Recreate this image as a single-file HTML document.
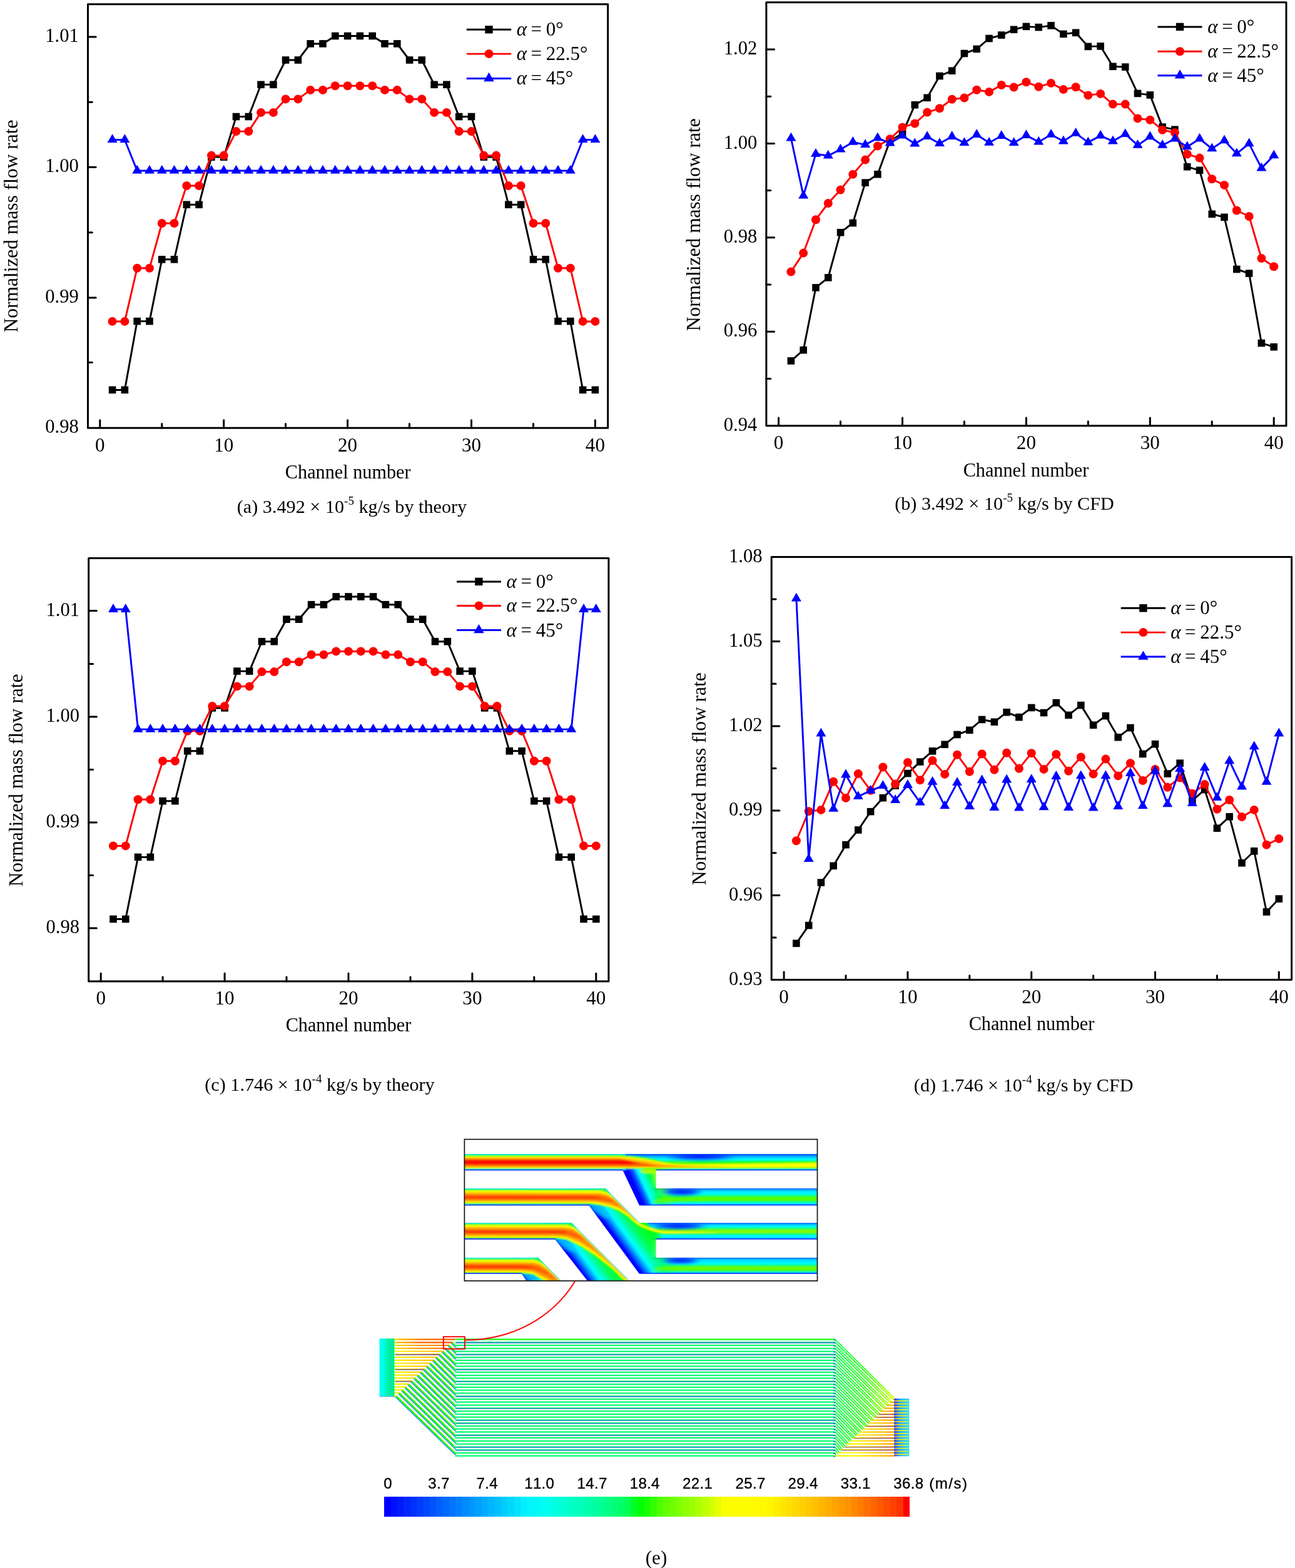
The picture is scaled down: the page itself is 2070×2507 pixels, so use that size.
<!DOCTYPE html>
<html lang="en">
<head>
<meta charset="utf-8">
<title>Normalized mass flow rate distributions</title>
<style>
html,body{margin:0;padding:0;background:#fff;}
body{width:2070px;height:2507px;overflow:hidden;font-family:"Liberation Serif", serif;}
svg{display:block;}
text{fill:#000;}
</style>
</head>
<body>
<svg width="2070" height="2507" viewBox="0 0 2070 2507">
<rect width="2070" height="2507" fill="#fff"/>
<g>
<g fill="#000" stroke="none">
<polyline points="179.6,623.4 199.4,623.4 219.2,513.6 239,513.6 258.8,414.8 278.5,414.8 298.3,327.2 318.1,327.2 337.9,251.1 357.7,251.1 377.5,186.5 397.3,186.5 417.1,135.3 436.9,135.3 456.6,96 476.4,96 496.2,69.9 516,69.9 535.8,57.5 555.6,57.5 575.4,57.5 595.2,57.5 615,69.9 634.8,69.9 654.5,96 674.3,96 694.1,135.3 713.9,135.3 733.7,186.5 753.5,186.5 773.3,251.1 793.1,251.1 812.9,327.2 832.7,327.2 852.5,414.8 872.2,414.8 892,513.6 911.8,513.6 931.6,623.4 951.4,623.4" fill="none" stroke="#000" stroke-width="2.95" stroke-linejoin="round"/>
<rect x="173.8" y="617.6" width="11.6" height="11.6"/><rect x="193.6" y="617.6" width="11.6" height="11.6"/><rect x="213.4" y="507.8" width="11.6" height="11.6"/><rect x="233.2" y="507.8" width="11.6" height="11.6"/><rect x="252.9" y="409" width="11.6" height="11.6"/><rect x="272.7" y="409" width="11.6" height="11.6"/><rect x="292.5" y="321.4" width="11.6" height="11.6"/><rect x="312.3" y="321.4" width="11.6" height="11.6"/><rect x="332.1" y="245.3" width="11.6" height="11.6"/><rect x="351.9" y="245.3" width="11.6" height="11.6"/><rect x="371.7" y="180.7" width="11.6" height="11.6"/><rect x="391.5" y="180.7" width="11.6" height="11.6"/><rect x="411.3" y="129.5" width="11.6" height="11.6"/><rect x="431.1" y="129.5" width="11.6" height="11.6"/><rect x="450.8" y="90.2" width="11.6" height="11.6"/><rect x="470.6" y="90.2" width="11.6" height="11.6"/><rect x="490.4" y="64.1" width="11.6" height="11.6"/><rect x="510.2" y="64.1" width="11.6" height="11.6"/><rect x="530" y="51.7" width="11.6" height="11.6"/><rect x="549.8" y="51.7" width="11.6" height="11.6"/><rect x="569.6" y="51.7" width="11.6" height="11.6"/><rect x="589.4" y="51.7" width="11.6" height="11.6"/><rect x="609.2" y="64.1" width="11.6" height="11.6"/><rect x="629" y="64.1" width="11.6" height="11.6"/><rect x="648.8" y="90.2" width="11.6" height="11.6"/><rect x="668.5" y="90.2" width="11.6" height="11.6"/><rect x="688.3" y="129.5" width="11.6" height="11.6"/><rect x="708.1" y="129.5" width="11.6" height="11.6"/><rect x="727.9" y="180.7" width="11.6" height="11.6"/><rect x="747.7" y="180.7" width="11.6" height="11.6"/><rect x="767.5" y="245.3" width="11.6" height="11.6"/><rect x="787.3" y="245.3" width="11.6" height="11.6"/><rect x="807.1" y="321.4" width="11.6" height="11.6"/><rect x="826.9" y="321.4" width="11.6" height="11.6"/><rect x="846.7" y="409" width="11.6" height="11.6"/><rect x="866.4" y="409" width="11.6" height="11.6"/><rect x="886.2" y="507.8" width="11.6" height="11.6"/><rect x="906" y="507.8" width="11.6" height="11.6"/><rect x="925.8" y="617.6" width="11.6" height="11.6"/><rect x="945.6" y="617.6" width="11.6" height="11.6"/>
</g>
<g fill="#ff0000" stroke="none">
<polyline points="179.6,513.9 199.4,513.9 219.2,428.7 239,428.7 258.8,357 278.5,357 298.3,297 318.1,297 337.9,248.6 357.7,248.6 377.5,210.1 397.3,210.1 417.1,179.9 436.9,179.9 456.6,158.4 476.4,158.4 496.2,143.9 516,143.9 535.8,137.3 555.6,137.3 575.4,137.3 595.2,137.3 615,143.9 634.8,143.9 654.5,158.4 674.3,158.4 694.1,179.9 713.9,179.9 733.7,210.1 753.5,210.1 773.3,248.6 793.1,248.6 812.9,297 832.7,297 852.5,357 872.2,357 892,428.7 911.8,428.7 931.6,513.9 951.4,513.9" fill="none" stroke="#ff0000" stroke-width="2.95" stroke-linejoin="round"/>
<circle cx="179.6" cy="513.9" r="7"/><circle cx="199.4" cy="513.9" r="7"/><circle cx="219.2" cy="428.7" r="7"/><circle cx="239" cy="428.7" r="7"/><circle cx="258.8" cy="357" r="7"/><circle cx="278.5" cy="357" r="7"/><circle cx="298.3" cy="297" r="7"/><circle cx="318.1" cy="297" r="7"/><circle cx="337.9" cy="248.6" r="7"/><circle cx="357.7" cy="248.6" r="7"/><circle cx="377.5" cy="210.1" r="7"/><circle cx="397.3" cy="210.1" r="7"/><circle cx="417.1" cy="179.9" r="7"/><circle cx="436.9" cy="179.9" r="7"/><circle cx="456.6" cy="158.4" r="7"/><circle cx="476.4" cy="158.4" r="7"/><circle cx="496.2" cy="143.9" r="7"/><circle cx="516" cy="143.9" r="7"/><circle cx="535.8" cy="137.3" r="7"/><circle cx="555.6" cy="137.3" r="7"/><circle cx="575.4" cy="137.3" r="7"/><circle cx="595.2" cy="137.3" r="7"/><circle cx="615" cy="143.9" r="7"/><circle cx="634.8" cy="143.9" r="7"/><circle cx="654.5" cy="158.4" r="7"/><circle cx="674.3" cy="158.4" r="7"/><circle cx="694.1" cy="179.9" r="7"/><circle cx="713.9" cy="179.9" r="7"/><circle cx="733.7" cy="210.1" r="7"/><circle cx="753.5" cy="210.1" r="7"/><circle cx="773.3" cy="248.6" r="7"/><circle cx="793.1" cy="248.6" r="7"/><circle cx="812.9" cy="297" r="7"/><circle cx="832.7" cy="297" r="7"/><circle cx="852.5" cy="357" r="7"/><circle cx="872.2" cy="357" r="7"/><circle cx="892" cy="428.7" r="7"/><circle cx="911.8" cy="428.7" r="7"/><circle cx="931.6" cy="513.9" r="7"/><circle cx="951.4" cy="513.9" r="7"/>
</g>
<g fill="#0000ff" stroke="none">
<polyline points="179.6,223.5 199.4,223.5 219.2,272.9 239,272.9 258.8,272.9 278.5,272.9 298.3,272.9 318.1,272.9 337.9,272.9 357.7,272.9 377.5,272.9 397.3,272.9 417.1,272.9 436.9,272.9 456.6,272.9 476.4,272.9 496.2,272.9 516,272.9 535.8,272.9 555.6,272.9 575.4,272.9 595.2,272.9 615,272.9 634.8,272.9 654.5,272.9 674.3,272.9 694.1,272.9 713.9,272.9 733.7,272.9 753.5,272.9 773.3,272.9 793.1,272.9 812.9,272.9 832.7,272.9 852.5,272.9 872.2,272.9 892,272.9 911.8,272.9 931.6,223.5 951.4,223.5" fill="none" stroke="#0000ff" stroke-width="2.95" stroke-linejoin="round"/>
<path d="M179.6 214.3L187.6 228.1L171.6 228.1Z"/><path d="M199.4 214.3L207.4 228.1L191.4 228.1Z"/><path d="M219.2 263.7L227.2 277.5L211.2 277.5Z"/><path d="M239 263.7L247 277.5L231 277.5Z"/><path d="M258.8 263.7L266.8 277.5L250.8 277.5Z"/><path d="M278.5 263.7L286.5 277.5L270.5 277.5Z"/><path d="M298.3 263.7L306.3 277.5L290.3 277.5Z"/><path d="M318.1 263.7L326.1 277.5L310.1 277.5Z"/><path d="M337.9 263.7L345.9 277.5L329.9 277.5Z"/><path d="M357.7 263.7L365.7 277.5L349.7 277.5Z"/><path d="M377.5 263.7L385.5 277.5L369.5 277.5Z"/><path d="M397.3 263.7L405.3 277.5L389.3 277.5Z"/><path d="M417.1 263.7L425.1 277.5L409.1 277.5Z"/><path d="M436.9 263.7L444.9 277.5L428.9 277.5Z"/><path d="M456.6 263.7L464.6 277.5L448.6 277.5Z"/><path d="M476.4 263.7L484.4 277.5L468.4 277.5Z"/><path d="M496.2 263.7L504.2 277.5L488.2 277.5Z"/><path d="M516 263.7L524 277.5L508 277.5Z"/><path d="M535.8 263.7L543.8 277.5L527.8 277.5Z"/><path d="M555.6 263.7L563.6 277.5L547.6 277.5Z"/><path d="M575.4 263.7L583.4 277.5L567.4 277.5Z"/><path d="M595.2 263.7L603.2 277.5L587.2 277.5Z"/><path d="M615 263.7L623 277.5L607 277.5Z"/><path d="M634.8 263.7L642.8 277.5L626.8 277.5Z"/><path d="M654.5 263.7L662.5 277.5L646.5 277.5Z"/><path d="M674.3 263.7L682.3 277.5L666.3 277.5Z"/><path d="M694.1 263.7L702.1 277.5L686.1 277.5Z"/><path d="M713.9 263.7L721.9 277.5L705.9 277.5Z"/><path d="M733.7 263.7L741.7 277.5L725.7 277.5Z"/><path d="M753.5 263.7L761.5 277.5L745.5 277.5Z"/><path d="M773.3 263.7L781.3 277.5L765.3 277.5Z"/><path d="M793.1 263.7L801.1 277.5L785.1 277.5Z"/><path d="M812.9 263.7L820.9 277.5L804.9 277.5Z"/><path d="M832.7 263.7L840.7 277.5L824.7 277.5Z"/><path d="M852.5 263.7L860.5 277.5L844.5 277.5Z"/><path d="M872.2 263.7L880.2 277.5L864.2 277.5Z"/><path d="M892 263.7L900 277.5L884 277.5Z"/><path d="M911.8 263.7L919.8 277.5L903.8 277.5Z"/><path d="M931.6 214.3L939.6 228.1L923.6 228.1Z"/><path d="M951.4 214.3L959.4 228.1L943.4 228.1Z"/>
</g>
<rect x="140.5" y="6.8" width="831.2" height="677.5" fill="none" stroke="#000" stroke-width="3.0" stroke-linejoin="round"/>
<path d="M159.8 684.3v-12.6M258.8 684.3v-6.9M357.7 684.3v-12.6M456.6 684.3v-6.9M555.6 684.3v-12.6M654.5 684.3v-6.9M753.5 684.3v-12.6M852.5 684.3v-6.9M951.4 684.3v-12.6M140.5 59h12.7M140.5 267.2h12.7M140.5 475.9h12.7M140.5 163.2h6.9M140.5 371.7h6.9M140.5 579.6h6.9" fill="none" stroke="#000" stroke-width="3.0" stroke-linecap="round"/>
<g font-family='"Liberation Serif", serif' font-size="32.6" fill="#000">
<text transform="translate(159.8 721.6) scale(0.955 1)" text-anchor="middle">0</text>
<text transform="translate(357.7 721.6) scale(0.955 1)" text-anchor="middle">10</text>
<text transform="translate(555.6 721.6) scale(0.955 1)" text-anchor="middle">20</text>
<text transform="translate(753.5 721.6) scale(0.955 1)" text-anchor="middle">30</text>
<text transform="translate(951.4 721.6) scale(0.955 1)" text-anchor="middle">40</text>
<text transform="translate(125.9 67.1) scale(0.94 1)" text-anchor="end">1.01</text>
<text transform="translate(125.9 275.3) scale(0.94 1)" text-anchor="end">1.00</text>
<text transform="translate(125.9 484) scale(0.94 1)" text-anchor="end">0.99</text>
<text transform="translate(125.9 692.4) scale(0.94 1)" text-anchor="end">0.98</text>
</g>
<text transform="translate(28 361.5) rotate(-90) scale(0.984 0.96)" font-family='"Liberation Serif", serif' font-size="32" text-anchor="middle">Normalized mass flow rate</text>
<text transform="translate(556.2 764.6) scale(0.945 1)" font-family='"Liberation Serif", serif' font-size="32" text-anchor="middle">Channel number</text>
<g fill="#000"><path d="M745.8 47.3H817.2" stroke="#000" stroke-width="2.95"/><rect x="775.3" y="41.1" width="12.4" height="12.4"/></g>
<text x="825.7" y="57.3" font-family='"Liberation Serif", serif' font-size="31" word-spacing="-1.1"><tspan font-style="italic">α</tspan> = 0°</text>
<g fill="#ff0000"><path d="M745.8 86.1H817.2" stroke="#ff0000" stroke-width="2.95"/><circle cx="781.5" cy="86.1" r="7"/></g>
<text x="825.7" y="96.1" font-family='"Liberation Serif", serif' font-size="31" word-spacing="-1.1"><tspan font-style="italic">α</tspan> = 22.5°</text>
<g fill="#0000ff"><path d="M745.8 125.4H817.2" stroke="#0000ff" stroke-width="2.95"/><path d="M781.5 115.8L789.8 130.2L773.2 130.2Z"/></g>
<text x="825.7" y="135.4" font-family='"Liberation Serif", serif' font-size="31" word-spacing="-1.1"><tspan font-style="italic">α</tspan> = 45°</text>
<text x="562.5" y="820.4" font-family='"Liberation Serif", serif' font-size="30.2" text-anchor="middle">(a) 3.492 × 10<tspan font-size="19" dy="-13.3">-5</tspan><tspan dy="13.3"> kg/s by theory</tspan></text>
</g>
<g>
<g fill="#000" stroke="none">
<polyline points="1264.4,577 1284.2,559.7 1304,459.9 1323.8,443.9 1343.5,371.7 1363.3,356.5 1383.1,292.1 1402.9,278.7 1422.7,224.7 1442.5,213.6 1462.3,167.7 1482.1,156.3 1501.9,121.5 1521.7,113.2 1541.4,85.5 1561.2,78.4 1581,61.5 1600.8,56.1 1620.6,47.3 1640.4,42.4 1660.2,43.6 1680,40.9 1699.8,54.4 1719.6,52.3 1739.3,74.4 1759.1,73.9 1778.9,106.3 1798.7,107.1 1818.5,149.4 1838.3,151.9 1858.1,203.1 1877.9,207.2 1897.7,266.7 1917.5,272.3 1937.2,342.3 1957,347.3 1976.8,430.5 1996.6,437.1 2016.4,548.6 2036.2,554.7" fill="none" stroke="#000" stroke-width="2.95" stroke-linejoin="round"/>
<rect x="1258.6" y="571.2" width="11.6" height="11.6"/><rect x="1278.4" y="553.9" width="11.6" height="11.6"/><rect x="1298.2" y="454.1" width="11.6" height="11.6"/><rect x="1318" y="438.1" width="11.6" height="11.6"/><rect x="1337.8" y="365.9" width="11.6" height="11.6"/><rect x="1357.5" y="350.7" width="11.6" height="11.6"/><rect x="1377.3" y="286.3" width="11.6" height="11.6"/><rect x="1397.1" y="272.9" width="11.6" height="11.6"/><rect x="1416.9" y="218.9" width="11.6" height="11.6"/><rect x="1436.7" y="207.8" width="11.6" height="11.6"/><rect x="1456.5" y="161.9" width="11.6" height="11.6"/><rect x="1476.3" y="150.5" width="11.6" height="11.6"/><rect x="1496.1" y="115.7" width="11.6" height="11.6"/><rect x="1515.9" y="107.4" width="11.6" height="11.6"/><rect x="1535.6" y="79.7" width="11.6" height="11.6"/><rect x="1555.4" y="72.6" width="11.6" height="11.6"/><rect x="1575.2" y="55.7" width="11.6" height="11.6"/><rect x="1595" y="50.3" width="11.6" height="11.6"/><rect x="1614.8" y="41.5" width="11.6" height="11.6"/><rect x="1634.6" y="36.6" width="11.6" height="11.6"/><rect x="1654.4" y="37.8" width="11.6" height="11.6"/><rect x="1674.2" y="35.1" width="11.6" height="11.6"/><rect x="1694" y="48.6" width="11.6" height="11.6"/><rect x="1713.8" y="46.5" width="11.6" height="11.6"/><rect x="1733.5" y="68.6" width="11.6" height="11.6"/><rect x="1753.3" y="68.1" width="11.6" height="11.6"/><rect x="1773.1" y="100.5" width="11.6" height="11.6"/><rect x="1792.9" y="101.3" width="11.6" height="11.6"/><rect x="1812.7" y="143.6" width="11.6" height="11.6"/><rect x="1832.5" y="146.1" width="11.6" height="11.6"/><rect x="1852.3" y="197.3" width="11.6" height="11.6"/><rect x="1872.1" y="201.4" width="11.6" height="11.6"/><rect x="1891.9" y="260.9" width="11.6" height="11.6"/><rect x="1911.7" y="266.5" width="11.6" height="11.6"/><rect x="1931.5" y="336.5" width="11.6" height="11.6"/><rect x="1951.2" y="341.5" width="11.6" height="11.6"/><rect x="1971" y="424.7" width="11.6" height="11.6"/><rect x="1990.8" y="431.3" width="11.6" height="11.6"/><rect x="2010.6" y="542.8" width="11.6" height="11.6"/><rect x="2030.4" y="548.9" width="11.6" height="11.6"/>
</g>
<g fill="#ff0000" stroke="none">
<polyline points="1264.4,434.5 1284.2,404.6 1304,351.2 1323.8,325 1343.5,303.5 1363.3,278.7 1383.1,255.6 1402.9,233.4 1422.7,222.2 1442.5,203.4 1462.3,197.5 1482.1,179.6 1501.9,173.3 1521.7,158.8 1541.4,156.5 1561.2,143.8 1581,146.9 1600.8,136 1620.6,139.5 1640.4,131.2 1660.2,138.8 1680,132.9 1699.8,143.1 1719.6,139.3 1739.3,152.4 1759.1,149.9 1778.9,166.6 1798.7,166.6 1818.5,189.4 1838.3,191.7 1858.1,207.7 1877.9,212 1897.7,246.5 1917.5,252.6 1937.2,286.3 1957,295.9 1976.8,336.5 1996.6,346 2016.4,413 2036.2,426.2" fill="none" stroke="#ff0000" stroke-width="2.95" stroke-linejoin="round"/>
<circle cx="1264.4" cy="434.5" r="7"/><circle cx="1284.2" cy="404.6" r="7"/><circle cx="1304" cy="351.2" r="7"/><circle cx="1323.8" cy="325" r="7"/><circle cx="1343.5" cy="303.5" r="7"/><circle cx="1363.3" cy="278.7" r="7"/><circle cx="1383.1" cy="255.6" r="7"/><circle cx="1402.9" cy="233.4" r="7"/><circle cx="1422.7" cy="222.2" r="7"/><circle cx="1442.5" cy="203.4" r="7"/><circle cx="1462.3" cy="197.5" r="7"/><circle cx="1482.1" cy="179.6" r="7"/><circle cx="1501.9" cy="173.3" r="7"/><circle cx="1521.7" cy="158.8" r="7"/><circle cx="1541.4" cy="156.5" r="7"/><circle cx="1561.2" cy="143.8" r="7"/><circle cx="1581" cy="146.9" r="7"/><circle cx="1600.8" cy="136" r="7"/><circle cx="1620.6" cy="139.5" r="7"/><circle cx="1640.4" cy="131.2" r="7"/><circle cx="1660.2" cy="138.8" r="7"/><circle cx="1680" cy="132.9" r="7"/><circle cx="1699.8" cy="143.1" r="7"/><circle cx="1719.6" cy="139.3" r="7"/><circle cx="1739.3" cy="152.4" r="7"/><circle cx="1759.1" cy="149.9" r="7"/><circle cx="1778.9" cy="166.6" r="7"/><circle cx="1798.7" cy="166.6" r="7"/><circle cx="1818.5" cy="189.4" r="7"/><circle cx="1838.3" cy="191.7" r="7"/><circle cx="1858.1" cy="207.7" r="7"/><circle cx="1877.9" cy="212" r="7"/><circle cx="1897.7" cy="246.5" r="7"/><circle cx="1917.5" cy="252.6" r="7"/><circle cx="1937.2" cy="286.3" r="7"/><circle cx="1957" cy="295.9" r="7"/><circle cx="1976.8" cy="336.5" r="7"/><circle cx="1996.6" cy="346" r="7"/><circle cx="2016.4" cy="413" r="7"/><circle cx="2036.2" cy="426.2" r="7"/>
</g>
<g fill="#0000ff" stroke="none">
<polyline points="1264.4,220.9 1284.2,312.9 1304,246.2 1323.8,249 1343.5,238.9 1363.3,227.2 1383.1,231.4 1402.9,220.7 1422.7,229 1442.5,217 1462.3,229.8 1482.1,218.4 1501.9,229.5 1521.7,218.3 1541.4,228.5 1561.2,215.3 1581,228.2 1600.8,217.3 1620.6,228.5 1640.4,216.4 1660.2,226.9 1680,215.2 1699.8,225.8 1719.6,213.1 1739.3,227.6 1759.1,216.9 1778.9,225.8 1798.7,214.4 1818.5,232.2 1838.3,218.7 1858.1,232.2 1877.9,222 1897.7,234.7 1917.5,222 1937.2,237.7 1957,224.6 1976.8,245.6 1996.6,229.6 2016.4,268.9 2036.2,248.6" fill="none" stroke="#0000ff" stroke-width="2.95" stroke-linejoin="round"/>
<path d="M1264.4 211.7L1272.4 225.5L1256.4 225.5Z"/><path d="M1284.2 303.7L1292.2 317.5L1276.2 317.5Z"/><path d="M1304 237L1312 250.8L1296 250.8Z"/><path d="M1323.8 239.8L1331.8 253.6L1315.8 253.6Z"/><path d="M1343.5 229.7L1351.5 243.5L1335.5 243.5Z"/><path d="M1363.3 218L1371.3 231.8L1355.3 231.8Z"/><path d="M1383.1 222.2L1391.1 236L1375.1 236Z"/><path d="M1402.9 211.5L1410.9 225.3L1394.9 225.3Z"/><path d="M1422.7 219.8L1430.7 233.6L1414.7 233.6Z"/><path d="M1442.5 207.8L1450.5 221.6L1434.5 221.6Z"/><path d="M1462.3 220.6L1470.3 234.4L1454.3 234.4Z"/><path d="M1482.1 209.2L1490.1 223L1474.1 223Z"/><path d="M1501.9 220.3L1509.9 234.1L1493.9 234.1Z"/><path d="M1521.7 209.1L1529.7 222.9L1513.7 222.9Z"/><path d="M1541.4 219.3L1549.4 233.1L1533.4 233.1Z"/><path d="M1561.2 206.1L1569.2 219.9L1553.2 219.9Z"/><path d="M1581 219L1589 232.8L1573 232.8Z"/><path d="M1600.8 208.1L1608.8 221.9L1592.8 221.9Z"/><path d="M1620.6 219.3L1628.6 233.1L1612.6 233.1Z"/><path d="M1640.4 207.2L1648.4 221L1632.4 221Z"/><path d="M1660.2 217.7L1668.2 231.5L1652.2 231.5Z"/><path d="M1680 206L1688 219.8L1672 219.8Z"/><path d="M1699.8 216.6L1707.8 230.4L1691.8 230.4Z"/><path d="M1719.6 203.9L1727.6 217.7L1711.6 217.7Z"/><path d="M1739.3 218.4L1747.3 232.2L1731.3 232.2Z"/><path d="M1759.1 207.7L1767.1 221.5L1751.1 221.5Z"/><path d="M1778.9 216.6L1786.9 230.4L1770.9 230.4Z"/><path d="M1798.7 205.2L1806.7 219L1790.7 219Z"/><path d="M1818.5 223L1826.5 236.8L1810.5 236.8Z"/><path d="M1838.3 209.5L1846.3 223.3L1830.3 223.3Z"/><path d="M1858.1 223L1866.1 236.8L1850.1 236.8Z"/><path d="M1877.9 212.8L1885.9 226.6L1869.9 226.6Z"/><path d="M1897.7 225.5L1905.7 239.3L1889.7 239.3Z"/><path d="M1917.5 212.8L1925.5 226.6L1909.5 226.6Z"/><path d="M1937.2 228.5L1945.2 242.3L1929.2 242.3Z"/><path d="M1957 215.4L1965 229.2L1949 229.2Z"/><path d="M1976.8 236.4L1984.8 250.2L1968.8 250.2Z"/><path d="M1996.6 220.4L2004.6 234.2L1988.6 234.2Z"/><path d="M2016.4 259.7L2024.4 273.5L2008.4 273.5Z"/><path d="M2036.2 239.4L2044.2 253.2L2028.2 253.2Z"/>
</g>
<rect x="1224.9" y="3.8" width="831.1" height="676.9" fill="none" stroke="#000" stroke-width="3.0" stroke-linejoin="round"/>
<path d="M1244.6 680.7v-12.6M1343.5 680.7v-6.9M1442.5 680.7v-12.6M1541.4 680.7v-6.9M1640.4 680.7v-12.6M1739.3 680.7v-6.9M1838.3 680.7v-12.6M1937.2 680.7v-6.9M2036.2 680.7v-12.6M1224.9 79h12.7M1224.9 229.4h12.7M1224.9 379.8h12.7M1224.9 530.3h12.7M1224.9 154.2h6.9M1224.9 304.6h6.9M1224.9 455h6.9M1224.9 605.5h6.9" fill="none" stroke="#000" stroke-width="3.0" stroke-linecap="round"/>
<g font-family='"Liberation Serif", serif' font-size="32.6" fill="#000">
<text transform="translate(1244.6 718) scale(0.955 1)" text-anchor="middle">0</text>
<text transform="translate(1442.5 718) scale(0.955 1)" text-anchor="middle">10</text>
<text transform="translate(1640.4 718) scale(0.955 1)" text-anchor="middle">20</text>
<text transform="translate(1838.3 718) scale(0.955 1)" text-anchor="middle">30</text>
<text transform="translate(2036.2 718) scale(0.955 1)" text-anchor="middle">40</text>
<text transform="translate(1210.3 87.1) scale(0.94 1)" text-anchor="end">1.02</text>
<text transform="translate(1210.3 237.5) scale(0.94 1)" text-anchor="end">1.00</text>
<text transform="translate(1210.3 387.9) scale(0.94 1)" text-anchor="end">0.98</text>
<text transform="translate(1210.3 538.4) scale(0.94 1)" text-anchor="end">0.96</text>
<text transform="translate(1210.3 688.8) scale(0.94 1)" text-anchor="end">0.94</text>
</g>
<text transform="translate(1119.4 359.3) rotate(-90) scale(0.984 0.96)" font-family='"Liberation Serif", serif' font-size="32" text-anchor="middle">Normalized mass flow rate</text>
<text transform="translate(1640 762) scale(0.945 1)" font-family='"Liberation Serif", serif' font-size="32" text-anchor="middle">Channel number</text>
<g fill="#000"><path d="M1850.5 42.9H1921.5" stroke="#000" stroke-width="2.95"/><rect x="1879.8" y="36.7" width="12.4" height="12.4"/></g>
<text x="1930.3" y="52.9" font-family='"Liberation Serif", serif' font-size="31" word-spacing="-1.1"><tspan font-style="italic">α</tspan> = 0°</text>
<g fill="#ff0000"><path d="M1850.5 82.2H1921.5" stroke="#ff0000" stroke-width="2.95"/><circle cx="1886" cy="82.2" r="7"/></g>
<text x="1930.3" y="92.2" font-family='"Liberation Serif", serif' font-size="31" word-spacing="-1.1"><tspan font-style="italic">α</tspan> = 22.5°</text>
<g fill="#0000ff"><path d="M1850.5 120.8H1921.5" stroke="#0000ff" stroke-width="2.95"/><path d="M1886 111.2L1894.3 125.6L1877.7 125.6Z"/></g>
<text x="1930.3" y="130.8" font-family='"Liberation Serif", serif' font-size="31" word-spacing="-1.1"><tspan font-style="italic">α</tspan> = 45°</text>
<text x="1605.5" y="815.3" font-family='"Liberation Serif", serif' font-size="30.2" text-anchor="middle">(b) 3.492 × 10<tspan font-size="19" dy="-13.3">-5</tspan><tspan dy="13.3"> kg/s by CFD</tspan></text>
</g>
<g>
<g fill="#000" stroke="none">
<polyline points="181,1469.5 200.8,1469.5 220.6,1370.4 240.4,1370.4 260.1,1280.7 279.9,1280.7 299.7,1200.8 319.5,1200.8 339.3,1131.9 359.1,1131.9 378.9,1073.1 398.7,1073.1 418.5,1025.7 438.3,1025.7 458,990.2 477.8,990.2 497.6,966.7 517.4,966.7 537.2,954 557,954 576.8,954 596.6,954 616.4,966.7 636.2,966.7 656,990.2 675.7,990.2 695.5,1025.7 715.3,1025.7 735.1,1073.1 754.9,1073.1 774.7,1131.9 794.5,1131.9 814.3,1200.8 834.1,1200.8 853.8,1280.7 873.6,1280.7 893.4,1370.4 913.2,1370.4 933,1469.5 952.8,1469.5" fill="none" stroke="#000" stroke-width="2.95" stroke-linejoin="round"/>
<rect x="175.2" y="1463.7" width="11.6" height="11.6"/><rect x="195" y="1463.7" width="11.6" height="11.6"/><rect x="214.8" y="1364.6" width="11.6" height="11.6"/><rect x="234.6" y="1364.6" width="11.6" height="11.6"/><rect x="254.3" y="1274.9" width="11.6" height="11.6"/><rect x="274.1" y="1274.9" width="11.6" height="11.6"/><rect x="293.9" y="1195" width="11.6" height="11.6"/><rect x="313.7" y="1195" width="11.6" height="11.6"/><rect x="333.5" y="1126.1" width="11.6" height="11.6"/><rect x="353.3" y="1126.1" width="11.6" height="11.6"/><rect x="373.1" y="1067.3" width="11.6" height="11.6"/><rect x="392.9" y="1067.3" width="11.6" height="11.6"/><rect x="412.7" y="1019.9" width="11.6" height="11.6"/><rect x="432.5" y="1019.9" width="11.6" height="11.6"/><rect x="452.2" y="984.4" width="11.6" height="11.6"/><rect x="472" y="984.4" width="11.6" height="11.6"/><rect x="491.8" y="960.9" width="11.6" height="11.6"/><rect x="511.6" y="960.9" width="11.6" height="11.6"/><rect x="531.4" y="948.2" width="11.6" height="11.6"/><rect x="551.2" y="948.2" width="11.6" height="11.6"/><rect x="571" y="948.2" width="11.6" height="11.6"/><rect x="590.8" y="948.2" width="11.6" height="11.6"/><rect x="610.6" y="960.9" width="11.6" height="11.6"/><rect x="630.4" y="960.9" width="11.6" height="11.6"/><rect x="650.2" y="984.4" width="11.6" height="11.6"/><rect x="669.9" y="984.4" width="11.6" height="11.6"/><rect x="689.7" y="1019.9" width="11.6" height="11.6"/><rect x="709.5" y="1019.9" width="11.6" height="11.6"/><rect x="729.3" y="1067.3" width="11.6" height="11.6"/><rect x="749.1" y="1067.3" width="11.6" height="11.6"/><rect x="768.9" y="1126.1" width="11.6" height="11.6"/><rect x="788.7" y="1126.1" width="11.6" height="11.6"/><rect x="808.5" y="1195" width="11.6" height="11.6"/><rect x="828.3" y="1195" width="11.6" height="11.6"/><rect x="848" y="1274.9" width="11.6" height="11.6"/><rect x="867.8" y="1274.9" width="11.6" height="11.6"/><rect x="887.6" y="1364.6" width="11.6" height="11.6"/><rect x="907.4" y="1364.6" width="11.6" height="11.6"/><rect x="927.2" y="1463.7" width="11.6" height="11.6"/><rect x="947" y="1463.7" width="11.6" height="11.6"/>
</g>
<g fill="#ff0000" stroke="none">
<polyline points="181,1352.4 200.8,1352.4 220.6,1278.2 240.4,1278.2 260.1,1216.8 279.9,1216.8 299.7,1168.7 319.5,1168.7 339.3,1128.9 359.1,1128.9 378.9,1097.4 398.7,1097.4 418.5,1074.1 438.3,1074.1 458,1058.2 477.8,1058.2 497.6,1046.7 517.4,1046.7 537.2,1041.4 557,1041.4 576.8,1041.4 596.6,1041.4 616.4,1046.7 636.2,1046.7 656,1058.2 675.7,1058.2 695.5,1074.1 715.3,1074.1 735.1,1097.4 754.9,1097.4 774.7,1128.9 794.5,1128.9 814.3,1168.7 834.1,1168.7 853.8,1216.8 873.6,1216.8 893.4,1278.2 913.2,1278.2 933,1352.4 952.8,1352.4" fill="none" stroke="#ff0000" stroke-width="2.95" stroke-linejoin="round"/>
<circle cx="181" cy="1352.4" r="7"/><circle cx="200.8" cy="1352.4" r="7"/><circle cx="220.6" cy="1278.2" r="7"/><circle cx="240.4" cy="1278.2" r="7"/><circle cx="260.1" cy="1216.8" r="7"/><circle cx="279.9" cy="1216.8" r="7"/><circle cx="299.7" cy="1168.7" r="7"/><circle cx="319.5" cy="1168.7" r="7"/><circle cx="339.3" cy="1128.9" r="7"/><circle cx="359.1" cy="1128.9" r="7"/><circle cx="378.9" cy="1097.4" r="7"/><circle cx="398.7" cy="1097.4" r="7"/><circle cx="418.5" cy="1074.1" r="7"/><circle cx="438.3" cy="1074.1" r="7"/><circle cx="458" cy="1058.2" r="7"/><circle cx="477.8" cy="1058.2" r="7"/><circle cx="497.6" cy="1046.7" r="7"/><circle cx="517.4" cy="1046.7" r="7"/><circle cx="537.2" cy="1041.4" r="7"/><circle cx="557" cy="1041.4" r="7"/><circle cx="576.8" cy="1041.4" r="7"/><circle cx="596.6" cy="1041.4" r="7"/><circle cx="616.4" cy="1046.7" r="7"/><circle cx="636.2" cy="1046.7" r="7"/><circle cx="656" cy="1058.2" r="7"/><circle cx="675.7" cy="1058.2" r="7"/><circle cx="695.5" cy="1074.1" r="7"/><circle cx="715.3" cy="1074.1" r="7"/><circle cx="735.1" cy="1097.4" r="7"/><circle cx="754.9" cy="1097.4" r="7"/><circle cx="774.7" cy="1128.9" r="7"/><circle cx="794.5" cy="1128.9" r="7"/><circle cx="814.3" cy="1168.7" r="7"/><circle cx="834.1" cy="1168.7" r="7"/><circle cx="853.8" cy="1216.8" r="7"/><circle cx="873.6" cy="1216.8" r="7"/><circle cx="893.4" cy="1278.2" r="7"/><circle cx="913.2" cy="1278.2" r="7"/><circle cx="933" cy="1352.4" r="7"/><circle cx="952.8" cy="1352.4" r="7"/>
</g>
<g fill="#0000ff" stroke="none">
<polyline points="181,974.3 200.8,974.3 220.6,1166.1 240.4,1166.1 260.1,1166.1 279.9,1166.1 299.7,1166.1 319.5,1166.1 339.3,1166.1 359.1,1166.1 378.9,1166.1 398.7,1166.1 418.5,1166.1 438.3,1166.1 458,1166.1 477.8,1166.1 497.6,1166.1 517.4,1166.1 537.2,1166.1 557,1166.1 576.8,1166.1 596.6,1166.1 616.4,1166.1 636.2,1166.1 656,1166.1 675.7,1166.1 695.5,1166.1 715.3,1166.1 735.1,1166.1 754.9,1166.1 774.7,1166.1 794.5,1166.1 814.3,1166.1 834.1,1166.1 853.8,1166.1 873.6,1166.1 893.4,1166.1 913.2,1166.1 933,974.3 952.8,974.3" fill="none" stroke="#0000ff" stroke-width="2.95" stroke-linejoin="round"/>
<path d="M181 965.1L189 978.9L173 978.9Z"/><path d="M200.8 965.1L208.8 978.9L192.8 978.9Z"/><path d="M220.6 1156.9L228.6 1170.7L212.6 1170.7Z"/><path d="M240.4 1156.9L248.4 1170.7L232.4 1170.7Z"/><path d="M260.1 1156.9L268.1 1170.7L252.1 1170.7Z"/><path d="M279.9 1156.9L287.9 1170.7L271.9 1170.7Z"/><path d="M299.7 1156.9L307.7 1170.7L291.7 1170.7Z"/><path d="M319.5 1156.9L327.5 1170.7L311.5 1170.7Z"/><path d="M339.3 1156.9L347.3 1170.7L331.3 1170.7Z"/><path d="M359.1 1156.9L367.1 1170.7L351.1 1170.7Z"/><path d="M378.9 1156.9L386.9 1170.7L370.9 1170.7Z"/><path d="M398.7 1156.9L406.7 1170.7L390.7 1170.7Z"/><path d="M418.5 1156.9L426.5 1170.7L410.5 1170.7Z"/><path d="M438.3 1156.9L446.3 1170.7L430.3 1170.7Z"/><path d="M458 1156.9L466 1170.7L450 1170.7Z"/><path d="M477.8 1156.9L485.8 1170.7L469.8 1170.7Z"/><path d="M497.6 1156.9L505.6 1170.7L489.6 1170.7Z"/><path d="M517.4 1156.9L525.4 1170.7L509.4 1170.7Z"/><path d="M537.2 1156.9L545.2 1170.7L529.2 1170.7Z"/><path d="M557 1156.9L565 1170.7L549 1170.7Z"/><path d="M576.8 1156.9L584.8 1170.7L568.8 1170.7Z"/><path d="M596.6 1156.9L604.6 1170.7L588.6 1170.7Z"/><path d="M616.4 1156.9L624.4 1170.7L608.4 1170.7Z"/><path d="M636.2 1156.9L644.2 1170.7L628.2 1170.7Z"/><path d="M656 1156.9L664 1170.7L648 1170.7Z"/><path d="M675.7 1156.9L683.7 1170.7L667.7 1170.7Z"/><path d="M695.5 1156.9L703.5 1170.7L687.5 1170.7Z"/><path d="M715.3 1156.9L723.3 1170.7L707.3 1170.7Z"/><path d="M735.1 1156.9L743.1 1170.7L727.1 1170.7Z"/><path d="M754.9 1156.9L762.9 1170.7L746.9 1170.7Z"/><path d="M774.7 1156.9L782.7 1170.7L766.7 1170.7Z"/><path d="M794.5 1156.9L802.5 1170.7L786.5 1170.7Z"/><path d="M814.3 1156.9L822.3 1170.7L806.3 1170.7Z"/><path d="M834.1 1156.9L842.1 1170.7L826.1 1170.7Z"/><path d="M853.8 1156.9L861.8 1170.7L845.8 1170.7Z"/><path d="M873.6 1156.9L881.6 1170.7L865.6 1170.7Z"/><path d="M893.4 1156.9L901.4 1170.7L885.4 1170.7Z"/><path d="M913.2 1156.9L921.2 1170.7L905.2 1170.7Z"/><path d="M933 965.1L941 978.9L925 978.9Z"/><path d="M952.8 965.1L960.8 978.9L944.8 978.9Z"/>
</g>
<rect x="141.7" y="892.6" width="831.2" height="676.3" fill="none" stroke="#000" stroke-width="3.0" stroke-linejoin="round"/>
<path d="M161.2 1568.9v-12.6M260.1 1568.9v-6.9M359.1 1568.9v-12.6M458 1568.9v-6.9M557 1568.9v-12.6M656 1568.9v-6.9M754.9 1568.9v-12.6M853.8 1568.9v-6.9M952.8 1568.9v-12.6M141.7 976.6h12.7M141.7 1145.9h12.7M141.7 1315h12.7M141.7 1483.9h12.7M141.7 1061.4h6.9M141.7 1230.6h6.9M141.7 1399.4h6.9" fill="none" stroke="#000" stroke-width="3.0" stroke-linecap="round"/>
<g font-family='"Liberation Serif", serif' font-size="32.6" fill="#000">
<text transform="translate(161.2 1606.2) scale(0.955 1)" text-anchor="middle">0</text>
<text transform="translate(359.1 1606.2) scale(0.955 1)" text-anchor="middle">10</text>
<text transform="translate(557 1606.2) scale(0.955 1)" text-anchor="middle">20</text>
<text transform="translate(754.9 1606.2) scale(0.955 1)" text-anchor="middle">30</text>
<text transform="translate(952.8 1606.2) scale(0.955 1)" text-anchor="middle">40</text>
<text transform="translate(127.1 984.7) scale(0.94 1)" text-anchor="end">1.01</text>
<text transform="translate(127.1 1154) scale(0.94 1)" text-anchor="end">1.00</text>
<text transform="translate(127.1 1323.1) scale(0.94 1)" text-anchor="end">0.99</text>
<text transform="translate(127.1 1492) scale(0.94 1)" text-anchor="end">0.98</text>
</g>
<text transform="translate(35.6 1247.6) rotate(-90) scale(0.984 0.96)" font-family='"Liberation Serif", serif' font-size="32" text-anchor="middle">Normalized mass flow rate</text>
<text transform="translate(557 1649) scale(0.945 1)" font-family='"Liberation Serif", serif' font-size="32" text-anchor="middle">Channel number</text>
<g fill="#000"><path d="M730 929.9H800.9" stroke="#000" stroke-width="2.95"/><rect x="759.2" y="923.7" width="12.4" height="12.4"/></g>
<text x="809.6" y="939.9" font-family='"Liberation Serif", serif' font-size="31" word-spacing="-1.1"><tspan font-style="italic">α</tspan> = 0°</text>
<g fill="#ff0000"><path d="M730 968.4H800.9" stroke="#ff0000" stroke-width="2.95"/><circle cx="765.5" cy="968.4" r="7"/></g>
<text x="809.6" y="978.4" font-family='"Liberation Serif", serif' font-size="31" word-spacing="-1.1"><tspan font-style="italic">α</tspan> = 22.5°</text>
<g fill="#0000ff"><path d="M730 1007.5H800.9" stroke="#0000ff" stroke-width="2.95"/><path d="M765.5 997.9L773.7 1012.3L757.2 1012.3Z"/></g>
<text x="809.6" y="1017.5" font-family='"Liberation Serif", serif' font-size="31" word-spacing="-1.1"><tspan font-style="italic">α</tspan> = 45°</text>
<text x="511" y="1744" font-family='"Liberation Serif", serif' font-size="30.2" text-anchor="middle">(c) 1.746 × 10<tspan font-size="19" dy="-13.3">-4</tspan><tspan dy="13.3"> kg/s by theory</tspan></text>
</g>
<g>
<g fill="#000" stroke="none">
<polyline points="1272.9,1508.3 1292.7,1479.6 1312.4,1411.1 1332.2,1384.4 1352,1350.7 1371.8,1327 1391.6,1297.7 1411.3,1275.7 1431.1,1256.1 1450.9,1236.6 1470.7,1218.1 1490.5,1200.9 1510.2,1190.3 1530,1174.5 1549.8,1167.4 1569.6,1150.5 1589.4,1154.3 1609.1,1138.8 1628.9,1146.7 1648.7,1131.5 1668.5,1139.6 1688.3,1123.6 1708,1143.4 1727.8,1127.6 1747.6,1159.3 1767.4,1144.6 1787.2,1178.8 1806.9,1163.6 1826.7,1205.5 1846.5,1189.7 1866.3,1237.1 1886.1,1220.2 1905.8,1280.2 1925.6,1262.5 1945.4,1324.2 1965.2,1305.8 1985,1379.8 2004.7,1360.8 2024.5,1458 2044.3,1437.1" fill="none" stroke="#000" stroke-width="2.95" stroke-linejoin="round"/>
<rect x="1267.1" y="1502.5" width="11.6" height="11.6"/><rect x="1286.9" y="1473.8" width="11.6" height="11.6"/><rect x="1306.6" y="1405.3" width="11.6" height="11.6"/><rect x="1326.4" y="1378.6" width="11.6" height="11.6"/><rect x="1346.2" y="1344.9" width="11.6" height="11.6"/><rect x="1366" y="1321.2" width="11.6" height="11.6"/><rect x="1385.8" y="1291.9" width="11.6" height="11.6"/><rect x="1405.5" y="1269.9" width="11.6" height="11.6"/><rect x="1425.3" y="1250.3" width="11.6" height="11.6"/><rect x="1445.1" y="1230.8" width="11.6" height="11.6"/><rect x="1464.9" y="1212.3" width="11.6" height="11.6"/><rect x="1484.7" y="1195.1" width="11.6" height="11.6"/><rect x="1504.4" y="1184.5" width="11.6" height="11.6"/><rect x="1524.2" y="1168.7" width="11.6" height="11.6"/><rect x="1544" y="1161.6" width="11.6" height="11.6"/><rect x="1563.8" y="1144.7" width="11.6" height="11.6"/><rect x="1583.6" y="1148.5" width="11.6" height="11.6"/><rect x="1603.3" y="1133" width="11.6" height="11.6"/><rect x="1623.1" y="1140.9" width="11.6" height="11.6"/><rect x="1642.9" y="1125.7" width="11.6" height="11.6"/><rect x="1662.7" y="1133.8" width="11.6" height="11.6"/><rect x="1682.5" y="1117.8" width="11.6" height="11.6"/><rect x="1702.2" y="1137.6" width="11.6" height="11.6"/><rect x="1722" y="1121.8" width="11.6" height="11.6"/><rect x="1741.8" y="1153.5" width="11.6" height="11.6"/><rect x="1761.6" y="1138.8" width="11.6" height="11.6"/><rect x="1781.4" y="1173" width="11.6" height="11.6"/><rect x="1801.1" y="1157.8" width="11.6" height="11.6"/><rect x="1820.9" y="1199.7" width="11.6" height="11.6"/><rect x="1840.7" y="1183.9" width="11.6" height="11.6"/><rect x="1860.5" y="1231.3" width="11.6" height="11.6"/><rect x="1880.3" y="1214.4" width="11.6" height="11.6"/><rect x="1900" y="1274.4" width="11.6" height="11.6"/><rect x="1919.8" y="1256.7" width="11.6" height="11.6"/><rect x="1939.6" y="1318.4" width="11.6" height="11.6"/><rect x="1959.4" y="1300" width="11.6" height="11.6"/><rect x="1979.2" y="1374" width="11.6" height="11.6"/><rect x="1998.9" y="1355" width="11.6" height="11.6"/><rect x="2018.7" y="1452.2" width="11.6" height="11.6"/><rect x="2038.5" y="1431.3" width="11.6" height="11.6"/>
</g>
<g fill="#ff0000" stroke="none">
<polyline points="1272.9,1344.3 1292.7,1297.2 1312.4,1294.9 1332.2,1249.8 1352,1275.9 1371.8,1237.1 1391.6,1263.8 1411.3,1226.5 1431.1,1253.6 1450.9,1218.9 1470.7,1247.3 1490.5,1216.1 1510.2,1237.9 1530,1206.7 1549.8,1233.8 1569.6,1205.5 1589.4,1230.8 1609.1,1203.7 1628.9,1228.8 1648.7,1204.2 1668.5,1229.9 1688.3,1206 1708,1232.8 1727.8,1210.5 1747.6,1237.6 1767.4,1213.6 1787.2,1240.4 1806.9,1220.2 1826.7,1248 1846.5,1230 1866.3,1258.7 1886.1,1243.5 1905.8,1268.8 1925.6,1254.1 1945.4,1293.7 1965.2,1279 1985,1306.1 2004.7,1294.9 2024.5,1350.7 2044.3,1341.1" fill="none" stroke="#ff0000" stroke-width="2.95" stroke-linejoin="round"/>
<circle cx="1272.9" cy="1344.3" r="7"/><circle cx="1292.7" cy="1297.2" r="7"/><circle cx="1312.4" cy="1294.9" r="7"/><circle cx="1332.2" cy="1249.8" r="7"/><circle cx="1352" cy="1275.9" r="7"/><circle cx="1371.8" cy="1237.1" r="7"/><circle cx="1391.6" cy="1263.8" r="7"/><circle cx="1411.3" cy="1226.5" r="7"/><circle cx="1431.1" cy="1253.6" r="7"/><circle cx="1450.9" cy="1218.9" r="7"/><circle cx="1470.7" cy="1247.3" r="7"/><circle cx="1490.5" cy="1216.1" r="7"/><circle cx="1510.2" cy="1237.9" r="7"/><circle cx="1530" cy="1206.7" r="7"/><circle cx="1549.8" cy="1233.8" r="7"/><circle cx="1569.6" cy="1205.5" r="7"/><circle cx="1589.4" cy="1230.8" r="7"/><circle cx="1609.1" cy="1203.7" r="7"/><circle cx="1628.9" cy="1228.8" r="7"/><circle cx="1648.7" cy="1204.2" r="7"/><circle cx="1668.5" cy="1229.9" r="7"/><circle cx="1688.3" cy="1206" r="7"/><circle cx="1708" cy="1232.8" r="7"/><circle cx="1727.8" cy="1210.5" r="7"/><circle cx="1747.6" cy="1237.6" r="7"/><circle cx="1767.4" cy="1213.6" r="7"/><circle cx="1787.2" cy="1240.4" r="7"/><circle cx="1806.9" cy="1220.2" r="7"/><circle cx="1826.7" cy="1248" r="7"/><circle cx="1846.5" cy="1230" r="7"/><circle cx="1866.3" cy="1258.7" r="7"/><circle cx="1886.1" cy="1243.5" r="7"/><circle cx="1905.8" cy="1268.8" r="7"/><circle cx="1925.6" cy="1254.1" r="7"/><circle cx="1945.4" cy="1293.7" r="7"/><circle cx="1965.2" cy="1279" r="7"/><circle cx="1985" cy="1306.1" r="7"/><circle cx="2004.7" cy="1294.9" r="7"/><circle cx="2024.5" cy="1350.7" r="7"/><circle cx="2044.3" cy="1341.1" r="7"/>
</g>
<g fill="#0000ff" stroke="none">
<polyline points="1272.9,956.9 1292.7,1373.5 1312.4,1172.9 1332.2,1293.2 1352,1238.8 1371.8,1273.5 1391.6,1264.1 1411.3,1256.5 1431.1,1279.3 1450.9,1255.3 1470.7,1283.1 1490.5,1250.2 1510.2,1288.7 1530,1251.5 1549.8,1289.5 1569.6,1247.7 1589.4,1291.3 1609.1,1246.9 1628.9,1292 1648.7,1246.4 1668.5,1290.7 1688.3,1241.3 1708,1291.3 1727.8,1240.6 1747.6,1292 1767.4,1240.6 1787.2,1289.5 1806.9,1236.3 1826.7,1288.7 1846.5,1233 1866.3,1285.7 1886.1,1229.4 1905.8,1284.4 1925.6,1227.4 1945.4,1275.5 1965.2,1216.7 1985,1257.8 2004.7,1193.7 2024.5,1250.2 2044.3,1172.9" fill="none" stroke="#0000ff" stroke-width="2.95" stroke-linejoin="round"/>
<path d="M1272.9 947.7L1280.9 961.5L1264.9 961.5Z"/><path d="M1292.7 1364.3L1300.7 1378.1L1284.7 1378.1Z"/><path d="M1312.4 1163.7L1320.4 1177.5L1304.4 1177.5Z"/><path d="M1332.2 1284L1340.2 1297.8L1324.2 1297.8Z"/><path d="M1352 1229.6L1360 1243.4L1344 1243.4Z"/><path d="M1371.8 1264.3L1379.8 1278.1L1363.8 1278.1Z"/><path d="M1391.6 1254.9L1399.6 1268.7L1383.6 1268.7Z"/><path d="M1411.3 1247.3L1419.3 1261.1L1403.3 1261.1Z"/><path d="M1431.1 1270.1L1439.1 1283.9L1423.1 1283.9Z"/><path d="M1450.9 1246.1L1458.9 1259.9L1442.9 1259.9Z"/><path d="M1470.7 1273.9L1478.7 1287.7L1462.7 1287.7Z"/><path d="M1490.5 1241L1498.5 1254.8L1482.5 1254.8Z"/><path d="M1510.2 1279.5L1518.2 1293.3L1502.2 1293.3Z"/><path d="M1530 1242.3L1538 1256.1L1522 1256.1Z"/><path d="M1549.8 1280.3L1557.8 1294.1L1541.8 1294.1Z"/><path d="M1569.6 1238.5L1577.6 1252.3L1561.6 1252.3Z"/><path d="M1589.4 1282.1L1597.4 1295.9L1581.4 1295.9Z"/><path d="M1609.1 1237.7L1617.1 1251.5L1601.1 1251.5Z"/><path d="M1628.9 1282.8L1636.9 1296.6L1620.9 1296.6Z"/><path d="M1648.7 1237.2L1656.7 1251L1640.7 1251Z"/><path d="M1668.5 1281.5L1676.5 1295.3L1660.5 1295.3Z"/><path d="M1688.3 1232.1L1696.3 1245.9L1680.3 1245.9Z"/><path d="M1708 1282.1L1716 1295.9L1700 1295.9Z"/><path d="M1727.8 1231.4L1735.8 1245.2L1719.8 1245.2Z"/><path d="M1747.6 1282.8L1755.6 1296.6L1739.6 1296.6Z"/><path d="M1767.4 1231.4L1775.4 1245.2L1759.4 1245.2Z"/><path d="M1787.2 1280.3L1795.2 1294.1L1779.2 1294.1Z"/><path d="M1806.9 1227.1L1814.9 1240.9L1798.9 1240.9Z"/><path d="M1826.7 1279.5L1834.7 1293.3L1818.7 1293.3Z"/><path d="M1846.5 1223.8L1854.5 1237.6L1838.5 1237.6Z"/><path d="M1866.3 1276.5L1874.3 1290.3L1858.3 1290.3Z"/><path d="M1886.1 1220.2L1894.1 1234L1878.1 1234Z"/><path d="M1905.8 1275.2L1913.8 1289L1897.8 1289Z"/><path d="M1925.6 1218.2L1933.6 1232L1917.6 1232Z"/><path d="M1945.4 1266.3L1953.4 1280.1L1937.4 1280.1Z"/><path d="M1965.2 1207.5L1973.2 1221.3L1957.2 1221.3Z"/><path d="M1985 1248.6L1993 1262.4L1977 1262.4Z"/><path d="M2004.7 1184.5L2012.7 1198.3L1996.7 1198.3Z"/><path d="M2024.5 1241L2032.5 1254.8L2016.5 1254.8Z"/><path d="M2044.3 1163.7L2052.3 1177.5L2036.3 1177.5Z"/>
</g>
<rect x="1233.2" y="890.4" width="831.4" height="676.2" fill="none" stroke="#000" stroke-width="3.0" stroke-linejoin="round"/>
<path d="M1253.1 1566.6v-12.6M1352 1566.6v-6.9M1450.9 1566.6v-12.6M1549.8 1566.6v-6.9M1648.7 1566.6v-12.6M1747.6 1566.6v-6.9M1846.5 1566.6v-12.6M1945.4 1566.6v-6.9M2044.3 1566.6v-12.6M1233.2 1025.6h12.7M1233.2 1160.9h12.7M1233.2 1296.1h12.7M1233.2 1431.4h12.7M1233.2 958h6.9M1233.2 1093.2h6.9M1233.2 1228.5h6.9M1233.2 1363.7h6.9M1233.2 1499h6.9" fill="none" stroke="#000" stroke-width="3.0" stroke-linecap="round"/>
<g font-family='"Liberation Serif", serif' font-size="32.6" fill="#000">
<text transform="translate(1253.1 1603.9) scale(0.955 1)" text-anchor="middle">0</text>
<text transform="translate(1450.9 1603.9) scale(0.955 1)" text-anchor="middle">10</text>
<text transform="translate(1648.7 1603.9) scale(0.955 1)" text-anchor="middle">20</text>
<text transform="translate(1846.5 1603.9) scale(0.955 1)" text-anchor="middle">30</text>
<text transform="translate(2044.3 1603.9) scale(0.955 1)" text-anchor="middle">40</text>
<text transform="translate(1218.6 898.5) scale(0.94 1)" text-anchor="end">1.08</text>
<text transform="translate(1218.6 1033.7) scale(0.94 1)" text-anchor="end">1.05</text>
<text transform="translate(1218.6 1169) scale(0.94 1)" text-anchor="end">1.02</text>
<text transform="translate(1218.6 1304.2) scale(0.94 1)" text-anchor="end">0.99</text>
<text transform="translate(1218.6 1439.5) scale(0.94 1)" text-anchor="end">0.96</text>
<text transform="translate(1218.6 1574.7) scale(0.94 1)" text-anchor="end">0.93</text>
</g>
<text transform="translate(1127.9 1245.2) rotate(-90) scale(0.984 0.96)" font-family='"Liberation Serif", serif' font-size="32" text-anchor="middle">Normalized mass flow rate</text>
<text transform="translate(1649 1647.2) scale(0.945 1)" font-family='"Liberation Serif", serif' font-size="32" text-anchor="middle">Channel number</text>
<g fill="#000"><path d="M1791.7 972.3H1863.1" stroke="#000" stroke-width="2.95"/><rect x="1821.2" y="966.1" width="12.4" height="12.4"/></g>
<text x="1871.2" y="982.3" font-family='"Liberation Serif", serif' font-size="31" word-spacing="-1.1"><tspan font-style="italic">α</tspan> = 0°</text>
<g fill="#ff0000"><path d="M1791.7 1011.1H1863.1" stroke="#ff0000" stroke-width="2.95"/><circle cx="1827.4" cy="1011.1" r="7"/></g>
<text x="1871.2" y="1021.1" font-family='"Liberation Serif", serif' font-size="31" word-spacing="-1.1"><tspan font-style="italic">α</tspan> = 22.5°</text>
<g fill="#0000ff"><path d="M1791.7 1050H1863.1" stroke="#0000ff" stroke-width="2.95"/><path d="M1827.4 1040.4L1835.7 1054.8L1819.1 1054.8Z"/></g>
<text x="1871.2" y="1060" font-family='"Liberation Serif", serif' font-size="31" word-spacing="-1.1"><tspan font-style="italic">α</tspan> = 45°</text>
<text x="1636.2" y="1745" font-family='"Liberation Serif", serif' font-size="30.2" text-anchor="middle">(d) 1.746 × 10<tspan font-size="19" dy="-13.3">-4</tspan><tspan dy="13.3"> kg/s by CFD</tspan></text>
</g>
<defs><linearGradient id="gin0" gradientUnits="userSpaceOnUse" x1="0" y1="1845" x2="0" y2="1871.4"><stop offset="0.000" stop-color="#00c0ff"/><stop offset="0.030" stop-color="#00ffff"/><stop offset="0.080" stop-color="#00ff00"/><stop offset="0.150" stop-color="#ffff00"/><stop offset="0.260" stop-color="#ff9000"/><stop offset="0.380" stop-color="#ff0800"/><stop offset="0.620" stop-color="#ff0800"/><stop offset="0.730" stop-color="#ff9000"/><stop offset="0.830" stop-color="#ffff00"/><stop offset="0.890" stop-color="#00ff00"/><stop offset="0.930" stop-color="#00ffff"/><stop offset="0.955" stop-color="#0030ff"/><stop offset="1.000" stop-color="#0030ff"/></linearGradient><linearGradient id="gin1" gradientUnits="userSpaceOnUse" x1="0" y1="1900" x2="0" y2="1927.4"><stop offset="0.000" stop-color="#00c0ff"/><stop offset="0.030" stop-color="#00ffff"/><stop offset="0.080" stop-color="#00ff00"/><stop offset="0.150" stop-color="#ffff00"/><stop offset="0.260" stop-color="#ff9000"/><stop offset="0.380" stop-color="#ff3c00"/><stop offset="0.620" stop-color="#ff3c00"/><stop offset="0.730" stop-color="#ff9000"/><stop offset="0.830" stop-color="#ffff00"/><stop offset="0.890" stop-color="#00ff00"/><stop offset="0.930" stop-color="#00ffff"/><stop offset="0.955" stop-color="#0030ff"/><stop offset="1.000" stop-color="#0030ff"/></linearGradient><linearGradient id="gin2" gradientUnits="userSpaceOnUse" x1="0" y1="1955" x2="0" y2="1981.7"><stop offset="0.000" stop-color="#00c0ff"/><stop offset="0.030" stop-color="#00ffff"/><stop offset="0.080" stop-color="#00ff00"/><stop offset="0.150" stop-color="#ffff00"/><stop offset="0.260" stop-color="#ff9000"/><stop offset="0.380" stop-color="#ff3c00"/><stop offset="0.620" stop-color="#ff3c00"/><stop offset="0.730" stop-color="#ff9000"/><stop offset="0.830" stop-color="#ffff00"/><stop offset="0.890" stop-color="#00ff00"/><stop offset="0.930" stop-color="#00ffff"/><stop offset="0.955" stop-color="#0030ff"/><stop offset="1.000" stop-color="#0030ff"/></linearGradient><linearGradient id="gin3" gradientUnits="userSpaceOnUse" x1="0" y1="2010.8" x2="0" y2="2036.7"><stop offset="0.000" stop-color="#00c0ff"/><stop offset="0.030" stop-color="#00ffff"/><stop offset="0.080" stop-color="#00ff00"/><stop offset="0.150" stop-color="#ffff00"/><stop offset="0.260" stop-color="#ff9000"/><stop offset="0.380" stop-color="#ff3c00"/><stop offset="0.620" stop-color="#ff3c00"/><stop offset="0.730" stop-color="#ff9000"/><stop offset="0.830" stop-color="#ffff00"/><stop offset="0.890" stop-color="#00ff00"/><stop offset="0.930" stop-color="#00ffff"/><stop offset="0.955" stop-color="#0030ff"/><stop offset="1.000" stop-color="#0030ff"/></linearGradient><linearGradient id="gout0" gradientUnits="userSpaceOnUse" x1="0" y1="1845" x2="0" y2="1871.4"><stop offset="0.000" stop-color="#0040ff"/><stop offset="0.080" stop-color="#0070ff"/><stop offset="0.200" stop-color="#00d0ff"/><stop offset="0.350" stop-color="#00ffff"/><stop offset="0.460" stop-color="#00ff40"/><stop offset="0.550" stop-color="#c0ff00"/><stop offset="0.660" stop-color="#ffff00"/><stop offset="0.780" stop-color="#d0ff00"/><stop offset="0.870" stop-color="#20ff00"/><stop offset="0.930" stop-color="#00ffff"/><stop offset="0.960" stop-color="#0030ff"/><stop offset="1.000" stop-color="#0030ff"/></linearGradient><linearGradient id="gout1" gradientUnits="userSpaceOnUse" x1="0" y1="1900" x2="0" y2="1927.4"><stop offset="0.000" stop-color="#0040ff"/><stop offset="0.060" stop-color="#0090ff"/><stop offset="0.160" stop-color="#00e0ff"/><stop offset="0.320" stop-color="#00ffff"/><stop offset="0.430" stop-color="#00ff80"/><stop offset="0.550" stop-color="#20ff00"/><stop offset="0.680" stop-color="#40ff00"/><stop offset="0.780" stop-color="#00ff60"/><stop offset="0.860" stop-color="#00ffff"/><stop offset="0.940" stop-color="#00c0ff"/><stop offset="0.970" stop-color="#0030ff"/><stop offset="1.000" stop-color="#0030ff"/></linearGradient><linearGradient id="gout2" gradientUnits="userSpaceOnUse" x1="0" y1="1955" x2="0" y2="1981.7"><stop offset="0.000" stop-color="#0040ff"/><stop offset="0.060" stop-color="#0090ff"/><stop offset="0.150" stop-color="#00e0ff"/><stop offset="0.250" stop-color="#00ffff"/><stop offset="0.330" stop-color="#00ff60"/><stop offset="0.450" stop-color="#80ff00"/><stop offset="0.580" stop-color="#80ff00"/><stop offset="0.680" stop-color="#00ff60"/><stop offset="0.760" stop-color="#00ffff"/><stop offset="0.920" stop-color="#00e0ff"/><stop offset="0.965" stop-color="#0030ff"/><stop offset="1.000" stop-color="#0030ff"/></linearGradient><linearGradient id="gout3" gradientUnits="userSpaceOnUse" x1="0" y1="2010.8" x2="0" y2="2036.7"><stop offset="0.000" stop-color="#0040ff"/><stop offset="0.060" stop-color="#0090ff"/><stop offset="0.150" stop-color="#00e0ff"/><stop offset="0.380" stop-color="#00ffff"/><stop offset="0.500" stop-color="#00ff60"/><stop offset="0.600" stop-color="#60ff00"/><stop offset="0.760" stop-color="#60ff00"/><stop offset="0.850" stop-color="#00ff60"/><stop offset="0.900" stop-color="#00ffff"/><stop offset="0.950" stop-color="#00c0ff"/><stop offset="0.975" stop-color="#0030ff"/><stop offset="1.000" stop-color="#0030ff"/></linearGradient><linearGradient id="gp1" gradientUnits="userSpaceOnUse" x1="968" y1="1900" x2="931.2" y2="1936.8"><stop offset="0.000" stop-color="#00ffff"/><stop offset="0.030" stop-color="#00ff00"/><stop offset="0.070" stop-color="#ffff00"/><stop offset="0.130" stop-color="#ff8800"/><stop offset="0.200" stop-color="#ff9400"/><stop offset="0.280" stop-color="#ffff00"/><stop offset="0.340" stop-color="#40ff00"/><stop offset="0.420" stop-color="#00ff90"/><stop offset="0.520" stop-color="#00ffff"/><stop offset="0.640" stop-color="#00b0ff"/><stop offset="0.760" stop-color="#0040ff"/><stop offset="0.860" stop-color="#0000ff"/><stop offset="1.000" stop-color="#0000ff"/></linearGradient><linearGradient id="gq1" gradientUnits="userSpaceOnUse" x1="968" y1="1900" x2="927" y2="1941"><stop offset="0.000" stop-color="#00ffff"/><stop offset="0.030" stop-color="#00ff00"/><stop offset="0.080" stop-color="#ffff00"/><stop offset="0.160" stop-color="#ffff00"/><stop offset="0.240" stop-color="#60ff00"/><stop offset="0.360" stop-color="#00ff60"/><stop offset="0.500" stop-color="#00ffc0"/><stop offset="0.600" stop-color="#00ffff"/><stop offset="0.720" stop-color="#00a0ff"/><stop offset="0.840" stop-color="#0020ff"/><stop offset="0.920" stop-color="#0000ff"/><stop offset="1.000" stop-color="#0000ff"/></linearGradient><linearGradient id="gp2" gradientUnits="userSpaceOnUse" x1="913.8" y1="1955" x2="877" y2="1991.8"><stop offset="0.000" stop-color="#00ffff"/><stop offset="0.030" stop-color="#00ff00"/><stop offset="0.070" stop-color="#ffff00"/><stop offset="0.130" stop-color="#ff8800"/><stop offset="0.200" stop-color="#ff9400"/><stop offset="0.280" stop-color="#ffff00"/><stop offset="0.340" stop-color="#40ff00"/><stop offset="0.420" stop-color="#00ff90"/><stop offset="0.520" stop-color="#00ffff"/><stop offset="0.640" stop-color="#00b0ff"/><stop offset="0.760" stop-color="#0040ff"/><stop offset="0.860" stop-color="#0000ff"/><stop offset="1.000" stop-color="#0000ff"/></linearGradient><linearGradient id="gq2" gradientUnits="userSpaceOnUse" x1="913.8" y1="1955" x2="872.8" y2="1996"><stop offset="0.000" stop-color="#00ffff"/><stop offset="0.030" stop-color="#00ff00"/><stop offset="0.080" stop-color="#ffff00"/><stop offset="0.160" stop-color="#ffff00"/><stop offset="0.240" stop-color="#60ff00"/><stop offset="0.360" stop-color="#00ff60"/><stop offset="0.500" stop-color="#00ffc0"/><stop offset="0.600" stop-color="#00ffff"/><stop offset="0.720" stop-color="#00a0ff"/><stop offset="0.840" stop-color="#0020ff"/><stop offset="0.920" stop-color="#0000ff"/><stop offset="1.000" stop-color="#0000ff"/></linearGradient><linearGradient id="gp3" gradientUnits="userSpaceOnUse" x1="860.5" y1="2010.8" x2="823.7" y2="2047.6"><stop offset="0.000" stop-color="#00ffff"/><stop offset="0.030" stop-color="#00ff00"/><stop offset="0.070" stop-color="#ffff00"/><stop offset="0.130" stop-color="#ff8800"/><stop offset="0.200" stop-color="#ff9400"/><stop offset="0.280" stop-color="#ffff00"/><stop offset="0.340" stop-color="#40ff00"/><stop offset="0.420" stop-color="#00ff90"/><stop offset="0.520" stop-color="#00ffff"/><stop offset="0.640" stop-color="#00b0ff"/><stop offset="0.760" stop-color="#0040ff"/><stop offset="0.860" stop-color="#0000ff"/><stop offset="1.000" stop-color="#0000ff"/></linearGradient><linearGradient id="gq3" gradientUnits="userSpaceOnUse" x1="860.5" y1="2010.8" x2="819.5" y2="2051.8"><stop offset="0.000" stop-color="#00ffff"/><stop offset="0.030" stop-color="#00ff00"/><stop offset="0.080" stop-color="#ffff00"/><stop offset="0.160" stop-color="#ffff00"/><stop offset="0.240" stop-color="#60ff00"/><stop offset="0.360" stop-color="#00ff60"/><stop offset="0.500" stop-color="#00ffc0"/><stop offset="0.600" stop-color="#00ffff"/><stop offset="0.720" stop-color="#00a0ff"/><stop offset="0.840" stop-color="#0020ff"/><stop offset="0.920" stop-color="#0000ff"/><stop offset="1.000" stop-color="#0000ff"/></linearGradient><linearGradient id="gp0" gradientUnits="userSpaceOnUse" x1="995.6" y1="1871.4" x2="1035.5" y2="1852.9"><stop offset="0.000" stop-color="#0000ff"/><stop offset="0.160" stop-color="#0000ff"/><stop offset="0.330" stop-color="#0060ff"/><stop offset="0.480" stop-color="#00ffff"/><stop offset="0.640" stop-color="#00ffc0"/><stop offset="0.800" stop-color="#00ff40"/><stop offset="1.000" stop-color="#60ff00"/></linearGradient><linearGradient id="fadeR" gradientUnits="userSpaceOnUse" x1="975" y1="0" x2="1090" y2="0"><stop offset="0" stop-color="#fff"/><stop offset="1" stop-color="#000"/></linearGradient><mask id="mIn0" maskUnits="userSpaceOnUse" x="700" y="1800" width="700" height="300"><rect x="700" y="1800" width="700" height="300" fill="url(#fadeR)"/></mask><linearGradient id="fadeD" gradientUnits="userSpaceOnUse" x1="0" y1="0" x2="1" y2="1" gradientTransform="translate(975 1925) scale(55)"><stop offset="0" stop-color="#000"/><stop offset="1" stop-color="#fff"/></linearGradient><mask id="mLow" maskUnits="userSpaceOnUse" x="700" y="1800" width="700" height="300"><rect x="700" y="1800" width="700" height="300" fill="url(#fadeD)"/></mask><linearGradient id="jet0" gradientUnits="userSpaceOnUse" x1="990" y1="0" x2="1200" y2="0"><stop offset="0" stop-color="#ff5000"/><stop offset="0.25" stop-color="#ff9800"/><stop offset="0.6" stop-color="#fff000"/><stop offset="1" stop-color="#f0ff00" stop-opacity="0"/></linearGradient><radialGradient id="blob"><stop offset="0" stop-color="#0010ff"/><stop offset="0.55" stop-color="#0030ff" stop-opacity="0.85"/><stop offset="1" stop-color="#0060ff" stop-opacity="0"/></radialGradient><filter id="bl1" x="-5%" y="-5%" width="110%" height="110%"><feGaussianBlur stdDeviation="1.3"/></filter><filter id="bl2" x="-5%" y="-5%" width="110%" height="110%"><feGaussianBlur stdDeviation="0.55"/></filter><filter id="bl3" x="-20%" y="-20%" width="140%" height="140%"><feGaussianBlur stdDeviation="2.2"/></filter><clipPath id="cbox"><rect x="742.4" y="1821.6" width="564.1" height="226.3"/></clipPath><linearGradient id="gcb" gradientUnits="userSpaceOnUse" x1="614.3" y1="0" x2="1453.9" y2="0"><stop offset="0.000" stop-color="#0000ff"/><stop offset="0.013" stop-color="#0000ff"/><stop offset="0.013" stop-color="#0018ff"/><stop offset="0.150" stop-color="#0090ff"/><stop offset="0.290" stop-color="#00ffff"/><stop offset="0.400" stop-color="#00ff90"/><stop offset="0.487" stop-color="#00ff00"/><stop offset="0.600" stop-color="#90ff00"/><stop offset="0.700" stop-color="#ffff00"/><stop offset="0.850" stop-color="#ff9c00"/><stop offset="0.987" stop-color="#ff3c00"/><stop offset="0.987" stop-color="#ff0000"/><stop offset="1.000" stop-color="#ff0000"/></linearGradient><linearGradient id="ginlet" gradientUnits="userSpaceOnUse" x1="606.5" y1="0" x2="630.4" y2="0"><stop offset="0.000" stop-color="#00ffff"/><stop offset="0.250" stop-color="#00ffe0"/><stop offset="0.600" stop-color="#00f0a8"/><stop offset="1.000" stop-color="#00e890"/></linearGradient></defs>
<defs><linearGradient id="gb1" gradientUnits="userSpaceOnUse" x1="941.5" y1="1927.4" x2="981.8" y2="1897.8"><stop offset="0.000" stop-color="#0000ff"/><stop offset="0.080" stop-color="#0000ff"/><stop offset="0.190" stop-color="#0060ff"/><stop offset="0.300" stop-color="#00b8ff"/><stop offset="0.400" stop-color="#00ffff"/><stop offset="0.540" stop-color="#00ffc0"/><stop offset="0.720" stop-color="#00ff60"/><stop offset="1.000" stop-color="#00ff20"/></linearGradient><linearGradient id="gb2" gradientUnits="userSpaceOnUse" x1="887.2" y1="1981.7" x2="927.5" y2="1952"><stop offset="0.000" stop-color="#0000ff"/><stop offset="0.080" stop-color="#0000ff"/><stop offset="0.190" stop-color="#0060ff"/><stop offset="0.300" stop-color="#00b8ff"/><stop offset="0.400" stop-color="#00ffff"/><stop offset="0.540" stop-color="#00ffc0"/><stop offset="0.720" stop-color="#00ff60"/><stop offset="1.000" stop-color="#00ff20"/></linearGradient><linearGradient id="gb3" gradientUnits="userSpaceOnUse" x1="833.7" y1="2036.7" x2="874" y2="2007"><stop offset="0.000" stop-color="#0000ff"/><stop offset="0.080" stop-color="#0000ff"/><stop offset="0.190" stop-color="#0060ff"/><stop offset="0.300" stop-color="#00b8ff"/><stop offset="0.400" stop-color="#00ffff"/><stop offset="0.540" stop-color="#00ffc0"/><stop offset="0.720" stop-color="#00ff60"/><stop offset="1.000" stop-color="#00ff20"/></linearGradient><linearGradient id="gfp" gradientUnits="userSpaceOnUse" x1="1040" y1="0" x2="1082" y2="0"><stop offset="0.000" stop-color="#fff"/><stop offset="1.000" stop-color="#000"/></linearGradient><mask id="mP" maskUnits="userSpaceOnUse" x="700" y="1800" width="700" height="300"><rect x="700" y="1800" width="700" height="300" fill="url(#gfp)"/></mask></defs>
<g clip-path="url(#cbox)">
<g filter="url(#bl1)">
<rect x="1000" y="1844" width="320" height="28.4" fill="url(#gout0)"/>
<rect x="1000" y="1899" width="320" height="29.4" fill="url(#gout1)"/>
<rect x="1000" y="1954" width="320" height="28.7" fill="url(#gout2)"/>
<rect x="1000" y="2009.8" width="320" height="27.9" fill="url(#gout3)"/>
<g mask="url(#mP)">
<polygon points="985,1866 1090,1866 1090,1932 1018,1932" fill="url(#gp0)"/>
<polygon points="952.4,1873.1 1122.1,2042.8 1059.9,2105.1 890.2,1935.4" fill="url(#gb1)"/>
<polygon points="898.2,1928.1 1067.9,2097.8 1005.7,2160.1 836,1990.4" fill="url(#gb2)"/>
<polygon points="844.9,1983.9 1014.6,2153.6 952.4,2215.9 782.7,2046.2" fill="url(#gb3)"/>
</g>
<g filter="url(#bl3)">
<ellipse cx="957.5" cy="1934.4" rx="21" ry="6.5" transform="rotate(36 957.5 1934.4)" fill="#00ccff" opacity="0.8"/>
<ellipse cx="903.2" cy="1988.7" rx="21" ry="6.5" transform="rotate(36 903.2 1988.7)" fill="#00ccff" opacity="0.8"/>
<ellipse cx="849.7" cy="2043.7" rx="21" ry="6.5" transform="rotate(36 849.7 2043.7)" fill="#00ccff" opacity="0.8"/>
</g>
<path d="M1046 1923 C1056 1917 1075 1918 1110 1917 S1250 1916 1310 1916" fill="none" stroke="#70ff00" stroke-width="7" opacity="0.6"/>
<path d="M1046 2031 C1056 2026 1075 2028 1110 2027 S1250 2027 1310 2027" fill="none" stroke="#70ff00" stroke-width="6" opacity="0.5"/>
<rect x="730" y="1844" width="270" height="28.4" fill="url(#gin0)"/>
<polygon points="730,1899 964,1899 935.5,1928.4 730,1928.4" fill="url(#gin1)"/>
<polygon points="730,1954 909.8,1954 881.2,1982.7 730,1982.7" fill="url(#gin2)"/>
<polygon points="730,2009.8 856.5,2009.8 827.7,2037.7 730,2037.7" fill="url(#gin3)"/>
<polygon points="690.3,1901.4 962.2,1901.4 969,1903.9 976.4,1909.9 989.9,1923 1004.9,1937.9 1019.1,1952.2 1024.4,1955.9 1034.9,1960.4 1049.9,1964.9 1060,1967.2 1060,1973.1 1042.4,1969.4 1027.4,1964.2 1019.9,1959.7 1012.4,1954.4 1004.9,1946.9 989.9,1937.9 974.9,1931.2 960,1927.5 945,1925.8 690.3,1925.2" fill="#00ff00"/>
<polygon points="690.3,1902.6 961.8,1902.7 969.3,1905.4 977.2,1911.1 989.9,1923.5 1004.9,1938.5 1018.8,1952.3 1024.4,1956.7 1034.9,1961.2 1049.9,1965.7 1060,1967.9 1222.1,1970 1222.1,1970.6 1060,1972.4 1042.4,1968.3 1027.4,1962.8 1019.9,1958.5 1012.4,1953.1 1004.9,1945.6 989.9,1936.2 974.9,1930.1 960,1926.4 945,1924.5 690.3,1924.1" fill="#90ff00"/>
<polygon points="690.3,1903.9 961.5,1904.2 969.7,1906.9 977.9,1912.5 989.9,1924.1 1004.9,1939.1 1018.4,1952.5 1024.4,1957.4 1034.9,1961.9 1049.9,1966.4 1060,1968.7 1147.2,1970 1147.2,1970.4 1060,1971.6 1042.4,1967.2 1027.4,1961.5 1019.9,1957.4 1012.4,1951.8 1004.9,1944.3 989.9,1934.6 974.9,1929.1 960,1925.4 945,1923.3 690.3,1923" fill="#ffff00"/>
<polygon points="690.3,1906.1 960,1906.9 970.4,1909.5 979.4,1914.7 989.9,1924.8 1004.9,1939.8 1016.1,1951 1016.1,1953.7 1004.9,1942.8 997.4,1936.8 989.9,1932.3 974.9,1927.1 960,1923.7 945,1921.8 690.3,1921.5" fill="#ffc400"/>
<polygon points="690.3,1908.4 958.5,1909.1 970.4,1911.7 980.9,1917 989.9,1925.6 1001.2,1936.8 1004.9,1941.7 997.4,1935.3 989.9,1930.1 974.9,1924.5 960,1921.5 945,1920 690.3,1919.6" fill="#ff9000"/>
<polygon points="690.3,1910.6 956.2,1911.3 967.5,1914 976.4,1917.7 982.4,1923 974.9,1921.5 960,1919.2 945,1918.1 690.3,1917.7" fill="#ff6400"/>
<polygon points="690.3,1912.5 945,1912.8 954.7,1914 961.5,1917 952.5,1916.6 690.3,1916.2" fill="#ff3c00"/>
<polygon points="636.1,1956.4 908,1956.4 914.8,1958.9 922.2,1964.9 946.6,1988.8 976.5,2018.8 1005,2047.2 1014.8,2055.5 1032.7,2067.5 1057.4,2081.7 1073.9,2090.2 1076.8,2099.2 1048.5,2084.7 1023.4,2069.3 1009.9,2058.9 996,2047.2 981,2032.3 954.1,2011.3 928.2,1993.7 905.8,1982.5 890.8,1980.8 636.1,1980.2" fill="#00ff00"/>
<polygon points="636.1,1957.6 907.6,1957.7 915.1,1960.4 923,1966.1 946.8,1989.6 976.8,2019.6 1004.5,2047.3 1015.1,2056.6 1033.1,2068.6 1057.8,2082.8 1074.2,2091.3 1318.4,2175.5 1318.7,2176.4 1076.5,2098 1047.9,2083 1022.7,2067.3 1009.3,2057.2 995.4,2045.2 980.4,2030.2 953.2,2008.7 927.7,1992.1 905.8,1981.4 890.8,1979.5 636.1,1979.1" fill="#90ff00"/>
<polygon points="636.1,1958.9 907.3,1959.2 915.5,1961.9 923.7,1967.5 947.1,1990.5 977.1,2020.5 1004.1,2047.4 1015.5,2057.7 1033.5,2069.7 1058.2,2084 1074.6,2092.4 1206.1,2138 1206.3,2138.7 1076.1,2096.9 1047.3,2081.3 1022.1,2065.4 1008.8,2055.5 994.7,2043.3 979.7,2028.3 952.4,2006.2 927.2,1990.5 905.8,1980.4 890.8,1978.3 636.1,1978" fill="#ffff00"/>
<polygon points="636.1,1961.1 905.8,1961.9 916.2,1964.5 926.7,1971.2 947.5,1991.6 977.5,2021.6 1000,2044.1 1001.3,2048 979,2026.1 964.8,2013.4 951.3,2002.9 926.2,1987.5 905.8,1978.7 890.8,1976.8 636.1,1976.5" fill="#ffc400"/>
<polygon points="636.1,1963.4 904.3,1964.1 916.2,1966.7 930.1,1975.3 947.9,1992.8 970.4,2015.2 978.4,2024.4 964,2011.1 950.1,1999.5 924.9,1983.6 905.8,1976.5 890.8,1975 636.1,1974.6" fill="#ff9000"/>
<polygon points="636.1,1965.6 902,1966.3 913.3,1969 923.7,1974.2 935.4,1985.1 923.4,1979.1 905.8,1974.2 890.8,1973.1 636.1,1972.7" fill="#ff6400"/>
<polygon points="636.1,1967.5 890.8,1967.8 900.5,1969 907.3,1972 898.3,1971.6 636.1,1971.2" fill="#ff3c00"/>
<polygon points="582.8,2012.2 854.7,2012.2 861.5,2014.7 868.9,2020.7 904.1,2055.5 949.1,2100.4 991.8,2143.1 1006,2155.9 1031.5,2175.3 1065.9,2199.3 1088.6,2214 1094.6,2226 1055.5,2200.8 1020.3,2175.3 1000.8,2158.9 980.6,2140.9 958.1,2118.4 919.1,2085.4 882.4,2057 852.5,2038.3 837.5,2036.6 582.8,2036" fill="#00ff00"/>
<polygon points="582.8,2013.4 854.3,2013.5 861.8,2016.2 869.7,2021.9 904.7,2056.5 949.6,2101.5 991.2,2143 1006.8,2157.4 1032.2,2176.8 1066.7,2200.8 1089.3,2215.5 1415.6,2381.8 1416.2,2383 1093.8,2224.5 1054.3,2198.6 1018.9,2172.6 999.7,2156.6 979.2,2138.2 956.7,2115.7 917.4,2082 881.4,2054.9 852.5,2037.2 837.5,2035.3 582.8,2034.9" fill="#90ff00"/>
<polygon points="582.8,2014.7 854,2015 862.2,2017.7 870.4,2023.3 905.3,2057.7 950.2,2102.7 990.7,2143.1 1007.5,2158.9 1033,2178.3 1067.4,2202.3 1090.1,2217 1265.8,2306.9 1266.2,2307.8 1093.1,2223 1053.2,2196.3 1017.6,2170.1 998.5,2154.4 977.9,2135.6 955.5,2113.2 915.8,2078.7 880.3,2052.8 852.5,2036.2 837.5,2034.1 582.8,2033.8" fill="#ffff00"/>
<polygon points="582.8,2016.9 852.5,2017.7 862.9,2020.3 874.9,2028.5 906,2059.2 951,2104.2 984.7,2137.9 987.3,2143.1 954,2110.2 933,2090.7 913.5,2074.2 878.3,2048.7 852.5,2034.5 837.5,2032.6 582.8,2032.3" fill="#ffc400"/>
<polygon points="582.8,2019.2 851,2019.9 862.9,2022.5 880.2,2034.5 906.8,2060.7 940.5,2094.4 952.8,2107.9 931.5,2087.7 911.3,2069.7 875.7,2043.5 852.5,2032.3 837.5,2030.8 582.8,2030.4" fill="#ff9000"/>
<polygon points="582.8,2021.4 848.7,2022.1 860,2024.8 871.9,2031.5 889.2,2048 872.7,2037.5 852.5,2030 837.5,2028.9 582.8,2028.5" fill="#ff6400"/>
<polygon points="582.8,2023.3 837.5,2023.6 847.2,2024.8 854,2027.8 845,2027.4 582.8,2027" fill="#ff3c00"/>
<path d="M968 1900L1023 1955M913.8 1955L1010 2051.2M860.5 2010.8L900 2050.3" fill="none" stroke="#00d0ff" stroke-width="1.8"/>
<polygon points="730,1847.3 990,1847.3 1015,1848.3 1038,1851.5 1061,1856.5 1084,1859.5 1110,1858.5 1200,1857.5 1310,1856.6 1310,1868.6 990,1868.8 730,1868.8" fill="#00ff00"/>
<polygon points="730,1848.2 990,1848.2 1015,1849.8 1038,1853.2 1061,1858 1084,1860.6 1110,1860.3 1200,1859.3 1310,1858 1310,1867.4 990,1868 730,1868" fill="#90ff00"/>
<polygon points="730,1849 990,1849 1015,1851.3 1038,1854.8 1061,1859.4 1084,1861.7 1110,1862.2 1200,1861.3 1310,1859.6 1310,1866.2 1200,1866.6 990,1867.4 730,1867.4" fill="#ffff00"/>
<polygon points="730,1850.5 990,1850.5 1015,1853 1038,1856.6 1061,1861 1084,1863 1130,1864.2 1180,1865 1100,1866.6 990,1866.5 730,1866.5" fill="#ffc400"/>
<polygon points="730,1851.9 990,1851.9 1004,1854.8 1027,1858.8 1050,1862.8 1073,1864.6 1110,1865.2 1060,1865.8 990,1865.6 730,1865.6" fill="#ff9000"/>
<polygon points="730,1853.4 990,1853.4 1004,1855.5 1020,1858.8 1040,1862.2 1055,1864 1020,1864.8 990,1863.8 730,1863.8" fill="#ff6400"/>
<polygon points="730,1854.8 990,1854.8 1000,1855.4 1012,1858 1022,1860.5 1000,1862 990,1861.7 730,1861.7" fill="#ff0800"/>
<ellipse cx="1036" cy="1872.6" rx="13" ry="3.6" fill="#b8ff00" opacity="0.85"/>
</g>
<g filter="url(#bl3)">
<ellipse cx="1120" cy="1849" rx="62" ry="7.0" fill="url(#blob)"/>
<ellipse cx="1090" cy="1905.5" rx="36" ry="7" fill="url(#blob)"/>
<ellipse cx="1085" cy="1960" rx="50" ry="6.5" fill="url(#blob)"/>
<ellipse cx="1088" cy="2015.5" rx="34" ry="6" fill="url(#blob)"/>
</g>
<g stroke="#0028ff" stroke-width="1.6" fill="none">
<path d="M742.4 1870.8H996M1049 1870.8H1306.5M742.4 1926.8H942M1022 1926.8H1306.5M742.4 1981.1H888M1049 1981.1H1306.5M742.4 2036.1H834M1022 2036.1H1306.5"/>
</g>
<g fill="#fff"><polygon points="740.4,1819.6 1308.5,1819.6 1308.5,1845 740.4,1845"/><polygon points="740.4,1871.4 995.6,1871.4 1022.1,1927.4 1308.5,1927.4 1308.5,1955 1023,1955 968,1900 740.4,1900"/><polygon points="1048.6,1871.4 1308.5,1871.4 1308.5,1900 1048.6,1900"/><polygon points="740.4,1927.4 941.5,1927.4 1022,2036.7 1308.5,2036.7 1308.5,2049.9 1008.8,2049.9 913.8,1955 740.4,1955"/><polygon points="1048.6,1981.7 1308.5,1981.7 1308.5,2010.8 1048.6,2010.8"/><polygon points="740.4,1981.7 887.2,1981.7 940.7,2049.9 899.6,2049.9 860.5,2010.8 740.4,2010.8"/><polygon points="740.4,2036.7 833.7,2036.7 842.9,2049.9 740.4,2049.9"/></g>
</g>
<rect x="742.4" y="1821.6" width="564.1" height="226.3" fill="none" stroke="#151515" stroke-width="1.7"/>
<g filter="url(#bl2)" fill="none">
<path d="M728.0 2141.6H1334.5M728.0 2146.3H1334.5M728.0 2151.1H1334.5M728.0 2155.9H1334.5M728.0 2160.7H1334.5M728.0 2165.4H1334.5M728.0 2170.2H1334.5M728.0 2175H1334.5M728.0 2179.8H1334.5M728.0 2184.5H1334.5M728.0 2189.3H1334.5M728.0 2194.1H1334.5M728.0 2198.9H1334.5M728.0 2203.6H1334.5M728.0 2208.4H1334.5M728.0 2213.2H1334.5M728.0 2218H1334.5M728.0 2222.7H1334.5M728.0 2227.5H1334.5M728.0 2232.3H1334.5M728.0 2237.1H1334.5M728.0 2241.8H1334.5M728.0 2246.6H1334.5M728.0 2251.4H1334.5M728.0 2256.2H1334.5M728.0 2260.9H1334.5M728.0 2265.7H1334.5M728.0 2270.5H1334.5M728.0 2275.2H1334.5M728.0 2280H1334.5M728.0 2284.8H1334.5M728.0 2289.6H1334.5M728.0 2294.4H1334.5M728.0 2299.1H1334.5M728.0 2303.9H1334.5M728.0 2308.7H1334.5M728.0 2313.5H1334.5M728.0 2318.2H1334.5M728.0 2323H1334.5M728.0 2327.8H1334.5" stroke="#a8fff0" stroke-width="3.0"/>
<path d="M728.0 2141.6H1334.5M728.0 2146.3H1334.5M728.0 2151.1H1334.5M728.0 2155.9H1334.5M728.0 2160.7H1334.5M728.0 2165.4H1334.5M728.0 2170.2H1334.5M728.0 2175H1334.5M728.0 2179.8H1334.5M728.0 2184.5H1334.5M728.0 2189.3H1334.5M728.0 2194.1H1334.5M728.0 2198.9H1334.5M728.0 2203.6H1334.5M728.0 2208.4H1334.5M728.0 2213.2H1334.5M728.0 2218H1334.5M728.0 2222.7H1334.5M728.0 2227.5H1334.5M728.0 2232.3H1334.5M728.0 2237.1H1334.5M728.0 2241.8H1334.5M728.0 2246.6H1334.5M728.0 2251.4H1334.5M728.0 2256.2H1334.5M728.0 2260.9H1334.5M728.0 2265.7H1334.5M728.0 2270.5H1334.5M728.0 2275.2H1334.5M728.0 2280H1334.5M728.0 2284.8H1334.5M728.0 2289.6H1334.5M728.0 2294.4H1334.5M728.0 2299.1H1334.5M728.0 2303.9H1334.5M728.0 2308.7H1334.5M728.0 2313.5H1334.5M728.0 2318.2H1334.5M728.0 2323H1334.5M728.0 2327.8H1334.5" stroke="#10fb68" stroke-width="2.0"/>
<path d="M728.0 2147H1334.5M728.0 2166.1H1334.5M728.0 2190H1334.5M728.0 2209.1H1334.5M728.0 2233H1334.5M728.0 2252.1H1334.5M728.0 2271.2H1334.5M728.0 2275.9H1334.5M728.0 2295.1H1334.5M728.0 2314.2H1334.5M728.0 2318.9H1334.5" stroke="#2858e8" stroke-width="1.3" opacity="0.8"/>
<path d="M728.0 2141.55H1334.5" stroke="#40ff10" stroke-width="2.1"/>
<path d="M721.9 2146.9L728.4 2153.8M716.9 2151.6L728.4 2163.4M711.9 2156.4L728.4 2172.9M706.9 2161.2L728.4 2182.5M702 2165.9L728.4 2192M697 2170.7L728.4 2201.6M692 2175.4L728.4 2211.1M687 2180.2L728.4 2220.7M682 2184.9L728.4 2230.2M677.1 2189.7L728.4 2239.8M672.1 2194.4L728.4 2249.3M667.1 2199.2L728.4 2258.9M662.1 2204L728.4 2268.4M657.1 2208.7L728.4 2278M652.2 2213.5L728.4 2287.5M647.2 2218.2L728.4 2297.1M642.2 2223L728.4 2306.6M637.2 2227.7L728.4 2316.2M632.2 2232.5L728.4 2325.7" stroke="#30d0ff" stroke-width="2.6"/>
<path d="M721.9 2146.9L728.4 2153.8M716.9 2151.6L728.4 2163.4M711.9 2156.4L728.4 2172.9M706.9 2161.2L728.4 2182.5M702 2165.9L728.4 2192M697 2170.7L728.4 2201.6M692 2175.4L728.4 2211.1M687 2180.2L728.4 2220.7M682 2184.9L728.4 2230.2M677.1 2189.7L728.4 2239.8M672.1 2194.4L728.4 2249.3M667.1 2199.2L728.4 2258.9M662.1 2204L728.4 2268.4M657.1 2208.7L728.4 2278M652.2 2213.5L728.4 2287.5M647.2 2218.2L728.4 2297.1M642.2 2223L728.4 2306.6M637.2 2227.7L728.4 2316.2M632.2 2232.5L728.4 2325.7" stroke="#2040ff" stroke-width="0.8" transform="translate(-0.8 0.8)"/>
<path d="M722.6 2146.2L729.1 2153.1M717.6 2150.9L729.1 2162.7M712.6 2155.7L729.1 2172.2M707.7 2160.4L729.1 2181.8M702.7 2165.2L729.1 2191.3M697.7 2170L729.1 2200.9M692.7 2174.7L729.1 2210.4M687.7 2179.5L729.1 2220M682.8 2184.2L729.1 2229.5M677.8 2189L729.1 2239.1M672.8 2193.7L729.1 2248.6M667.8 2198.5L729.1 2258.2M662.8 2203.2L729.1 2267.7M657.9 2208L729.1 2277.3M652.9 2212.8L729.1 2286.8M647.9 2217.5L729.1 2296.4M642.9 2222.3L729.1 2305.9M637.9 2227L729.1 2315.5M633 2231.8L729.1 2325" stroke="#18ff18" stroke-width="2.4"/>
<path d="M723.4 2145.3L729.9 2152.3M718.5 2150.1L729.9 2161.8M713.5 2154.8L729.9 2171.4M708.5 2159.6L729.9 2180.9M703.5 2164.4L729.9 2190.5M698.5 2169.1L729.9 2200M693.6 2173.9L729.9 2209.6M688.6 2178.6L729.9 2219.1M683.6 2183.4L729.9 2228.7M678.6 2188.1L729.9 2238.2M673.6 2192.9L729.9 2247.8M668.7 2197.6L729.9 2257.3M663.7 2202.4L729.9 2266.9M658.7 2207.2L729.9 2276.4M653.7 2211.9L729.9 2286M648.7 2216.7L729.9 2295.5M643.8 2221.4L729.9 2305.1M638.8 2226.2L729.9 2314.6M633.8 2230.9L729.9 2324.2" stroke="#b8ff00" stroke-width="1.0"/>
<path d="M630 2141.5H728M630 2146.3H723M630 2151H718M630 2155.8H713.1M630 2160.5H708.1M630 2165.3H703.1M630 2170H698.1M630 2174.8H693.1M630 2179.5H688.2M630 2184.3H683.2M630 2189.1H678.2M630 2193.8H673.2M630 2198.6H668.2M630 2203.3H663.3M630 2208.1H658.3M630 2212.8H653.3M630 2217.6H648.3M630 2222.3H643.3M630 2227.1H638.4M630 2231.8H633.4" stroke="url(#ginl)" stroke-width="2.2"/>
<path d="M632 2166H702.6M632 2189.8H677.7M632 2208.8H657.8" stroke="#5030c0" stroke-width="1.4" opacity="0.8"/>
<path d="M630 2141.5H727M630 2146.3H722.5" stroke="url(#ginl0)" stroke-width="2.2"/>
<path d="M630 2151H717.5M630 2155.8H712.5" stroke="url(#ginl0)" stroke-width="2.2" opacity="0.55"/>
<path d="M1333.8 2143.9L1428.1 2237.5M1333.8 2153.5L1423.1 2242.2M1333.8 2163L1418.1 2247M1333.8 2172.6L1413.2 2251.8M1333.8 2182.1L1408.2 2256.5M1333.8 2191.7L1403.2 2261.2M1333.8 2201.2L1398.2 2266M1333.8 2210.8L1393.2 2270.8M1333.8 2220.3L1388.3 2275.5M1333.8 2229.9L1383.3 2280.2M1333.8 2239.4L1378.3 2285M1333.8 2249L1373.3 2289.8M1333.8 2258.5L1368.3 2294.5M1333.8 2268.1L1363.4 2299.2M1333.8 2277.6L1358.4 2304M1333.8 2287.2L1353.4 2308.8M1333.8 2296.8L1348.4 2313.5M1333.8 2306.3L1343.4 2318.2M1333.8 2315.8L1338.5 2323M1333.8 2325.4L1333.5 2327.8" stroke="#60e8ff" stroke-width="1.2" opacity="0.8"/>
<path d="M1335 2141.6L1430.5 2236.3M1335 2146.3L1428.7 2238.3M1335 2151.1L1425.5 2241.1M1335 2155.9L1423.7 2243.1M1335 2160.7L1420.5 2245.8M1335 2165.4L1418.7 2247.8M1335 2170.2L1415.6 2250.6M1335 2175L1413.8 2252.6M1335 2179.8L1410.6 2255.3M1335 2184.5L1408.8 2257.3M1335 2189.3L1405.6 2260.1M1335 2194.1L1403.8 2262.1M1335 2198.9L1400.6 2264.8M1335 2203.6L1398.8 2266.8M1335 2208.4L1395.6 2269.6M1335 2213.2L1393.8 2271.6M1335 2218L1390.7 2274.3M1335 2222.7L1388.9 2276.3M1335 2227.5L1385.7 2279.1M1335 2232.3L1383.9 2281.1M1335 2237.1L1380.7 2283.8M1335 2241.8L1378.9 2285.8M1335 2246.6L1375.7 2288.6M1335 2251.4L1373.9 2290.6M1335 2256.2L1370.7 2293.3M1335 2260.9L1368.9 2295.3M1335 2265.7L1365.8 2298.1M1335 2270.5L1364 2300.1M1335 2275.2L1360.8 2302.8M1335 2280L1359 2304.8M1335 2284.8L1355.8 2307.6M1335 2289.6L1354 2309.6M1335 2294.4L1350.8 2312.3M1335 2299.1L1349 2314.3M1335 2303.9L1345.8 2317.1M1335 2308.7L1344 2319.1M1335 2313.5L1340.9 2321.8M1335 2318.2L1339.1 2323.8M1335 2323L1335.9 2326.6" stroke="url(#gdiag)" stroke-width="1.75"/>
<path d="M1428.1 2237.3H1430M1423.1 2242.1H1430M1418.1 2246.8H1430M1413.2 2251.6H1430M1408.2 2256.3H1430M1403.2 2261.1H1430M1398.2 2265.8H1430M1393.2 2270.6H1430M1388.3 2275.3H1430M1383.3 2280.1H1430M1378.3 2284.8H1430M1373.3 2289.6H1430M1368.3 2294.3H1430M1363.4 2299.1H1430M1358.4 2303.8H1430M1353.4 2308.6H1430M1348.4 2313.3H1430M1343.4 2318.1H1430M1338.5 2322.8H1430M1333.5 2327.6H1430" stroke="url(#goutl)" stroke-width="2.1"/>
<path d="M1404.7 2261.7H1430M1399.7 2266.4H1430M1384.8 2280.7H1430M1364.9 2299.7H1430M1349.9 2313.9H1430M1344.9 2318.7H1430" stroke="#7030a0" stroke-width="1.2" opacity="0.75"/>
<path d="M1332.3 2142.5h3M1332.3 2147.2h3M1332.3 2152h3M1332.3 2156.8h3M1332.3 2161.6h3M1332.3 2166.3h3M1332.3 2171.1h3M1332.3 2175.9h3M1332.3 2180.7h3M1332.3 2185.4h3M1332.3 2190.2h3M1332.3 2195h3M1332.3 2199.8h3M1332.3 2204.5h3M1332.3 2209.3h3M1332.3 2214.1h3M1332.3 2218.9h3M1332.3 2223.6h3M1332.3 2228.4h3M1332.3 2233.2h3M1332.3 2238h3M1332.3 2242.7h3M1332.3 2247.5h3M1332.3 2252.3h3M1332.3 2257.1h3M1332.3 2261.8h3M1332.3 2266.6h3M1332.3 2271.4h3M1332.3 2276.2h3M1332.3 2280.9h3M1332.3 2285.7h3M1332.3 2290.5h3M1332.3 2295.3h3M1332.3 2300h3M1332.3 2304.8h3M1332.3 2309.6h3M1332.3 2314.4h3M1332.3 2319.1h3M1332.3 2323.9h3M1332.3 2328.7h3" stroke="#2050ff" stroke-width="1.6" opacity="0.85"/>
<path d="M727.0 2151.1h3M727.0 2155.9h3M727.0 2160.7h3M727.0 2165.4h3M727.0 2170.2h3M727.0 2175h3M727.0 2179.8h3M727.0 2184.5h3M727.0 2189.3h3M727.0 2194.1h3M727.0 2198.9h3M727.0 2203.6h3M727.0 2208.4h3M727.0 2213.2h3M727.0 2218h3M727.0 2222.7h3M727.0 2227.5h3M727.0 2232.3h3M727.0 2237.1h3M727.0 2241.8h3M727.0 2246.6h3M727.0 2251.4h3M727.0 2256.2h3M727.0 2260.9h3M727.0 2265.7h3M727.0 2270.5h3M727.0 2275.2h3M727.0 2280h3M727.0 2284.8h3M727.0 2289.6h3M727.0 2294.4h3M727.0 2299.1h3M727.0 2303.9h3M727.0 2308.7h3M727.0 2313.5h3M727.0 2318.2h3M727.0 2323h3M727.0 2327.8h3" stroke="#20d0ff" stroke-width="2.4" opacity="0.5"/>
<rect x="606.5" y="2140.1" width="23.9" height="92.7" fill="url(#ginlet)" stroke="none"/>
<path d="M606.5 2233H631" stroke="#4060ff" stroke-width="0.9" opacity="0.7"/>
<rect x="1429.4" y="2236.1" width="23.9" height="92.2" fill="url(#goutb)" stroke="none"/>
<path d="M1430 2239.7H1452M1430 2244.5H1452M1430 2249.2H1452M1430 2254H1452M1430 2258.7H1452M1430 2263.5H1452M1430 2268.2H1452M1430 2273H1452M1430 2277.7H1452M1430 2282.5H1452M1430 2287.2H1452M1430 2292H1452M1430 2296.7H1452M1430 2301.5H1452M1430 2306.2H1452M1430 2311H1452M1430 2315.7H1452M1430 2320.5H1452M1430 2325.2H1452" stroke="url(#goutb2)" stroke-width="2.0" opacity="0.9"/>
</g>
<rect x="708.9" y="2137.2" width="34.0" height="19.5" fill="none" stroke="#ff0000" stroke-width="1.9"/>
<path d="M743.8 2142.5C818 2142.3 883 2107.5 919.2 2048.6" fill="none" stroke="#ff0000" stroke-width="1.9"/>
<defs><linearGradient id="ginl" gradientUnits="userSpaceOnUse" x1="630" y1="0" x2="728" y2="0"><stop offset="0.000" stop-color="#c8ff00"/><stop offset="0.060" stop-color="#ffee00"/><stop offset="0.500" stop-color="#ffc800"/><stop offset="1.000" stop-color="#ffa800"/></linearGradient><linearGradient id="ginl0" gradientUnits="userSpaceOnUse" x1="630" y1="0" x2="728" y2="0"><stop offset="0.000" stop-color="#c8ff00"/><stop offset="0.060" stop-color="#ffc000"/><stop offset="0.400" stop-color="#ff7000"/><stop offset="1.000" stop-color="#ff5000"/></linearGradient><linearGradient id="goutl" gradientUnits="userSpaceOnUse" x1="1335" y1="0" x2="1430" y2="0"><stop offset="0.000" stop-color="#d8ff00"/><stop offset="0.350" stop-color="#fff400"/><stop offset="0.750" stop-color="#ffc400"/><stop offset="1.000" stop-color="#ff9800"/></linearGradient><linearGradient id="gdiag" gradientUnits="userSpaceOnUse" x1="1335" y1="0" x2="1430" y2="0"><stop offset="0.000" stop-color="#10ff40"/><stop offset="0.500" stop-color="#30ff10"/><stop offset="0.850" stop-color="#a0ff00"/><stop offset="1.000" stop-color="#e0ff00"/></linearGradient><linearGradient id="goutb" gradientUnits="userSpaceOnUse" x1="1429.4" y1="0" x2="1453.3" y2="0"><stop offset="0.000" stop-color="#1038ff"/><stop offset="0.150" stop-color="#1868ff"/><stop offset="0.450" stop-color="#28b0ff"/><stop offset="1.000" stop-color="#30dcf4"/></linearGradient><linearGradient id="goutb2" gradientUnits="userSpaceOnUse" x1="1429.4" y1="0" x2="1453.3" y2="0"><stop offset="0.000" stop-color="#ffc000"/><stop offset="0.300" stop-color="#ffe800"/><stop offset="0.700" stop-color="#e0f820"/><stop offset="1.000" stop-color="#b0f090"/></linearGradient></defs>
<g shape-rendering="crispEdges"><rect x="614.3" y="2392.5" width="10.7" height="32.8" fill="#0000ff"/><rect x="624.7" y="2392.5" width="10.7" height="32.8" fill="#0010ff"/><rect x="635" y="2392.5" width="10.7" height="32.8" fill="#001bff"/><rect x="645.4" y="2392.5" width="10.7" height="32.8" fill="#0027ff"/><rect x="655.8" y="2392.5" width="10.7" height="32.8" fill="#0032ff"/><rect x="666.1" y="2392.5" width="10.7" height="32.8" fill="#003dff"/><rect x="676.5" y="2392.5" width="10.7" height="32.8" fill="#0048ff"/><rect x="686.9" y="2392.5" width="10.7" height="32.8" fill="#0054ff"/><rect x="697.2" y="2392.5" width="10.7" height="32.8" fill="#005fff"/><rect x="707.6" y="2392.5" width="10.7" height="32.8" fill="#006aff"/><rect x="718" y="2392.5" width="10.7" height="32.8" fill="#0075ff"/><rect x="728.3" y="2392.5" width="10.7" height="32.8" fill="#0080ff"/><rect x="738.7" y="2392.5" width="10.7" height="32.8" fill="#008bff"/><rect x="749.1" y="2392.5" width="10.7" height="32.8" fill="#0095ff"/><rect x="759.4" y="2392.5" width="10.7" height="32.8" fill="#00a0ff"/><rect x="769.8" y="2392.5" width="10.7" height="32.8" fill="#00abff"/><rect x="780.1" y="2392.5" width="10.7" height="32.8" fill="#00b6ff"/><rect x="790.5" y="2392.5" width="10.7" height="32.8" fill="#00c1ff"/><rect x="800.9" y="2392.5" width="10.7" height="32.8" fill="#00ccff"/><rect x="811.2" y="2392.5" width="10.7" height="32.8" fill="#00d7ff"/><rect x="821.6" y="2392.5" width="10.7" height="32.8" fill="#00e2ff"/><rect x="832" y="2392.5" width="10.7" height="32.8" fill="#00edff"/><rect x="842.3" y="2392.5" width="10.7" height="32.8" fill="#00f5fd"/><rect x="852.7" y="2392.5" width="10.7" height="32.8" fill="#00f9f8"/><rect x="863.1" y="2392.5" width="10.7" height="32.8" fill="#00fdf2"/><rect x="873.4" y="2392.5" width="10.7" height="32.8" fill="#00ffea"/><rect x="883.8" y="2392.5" width="10.7" height="32.8" fill="#00ffe0"/><rect x="894.2" y="2392.5" width="10.7" height="32.8" fill="#00ffd5"/><rect x="904.5" y="2392.5" width="10.7" height="32.8" fill="#00ffcb"/><rect x="914.9" y="2392.5" width="10.7" height="32.8" fill="#00ffc1"/><rect x="925.3" y="2392.5" width="10.7" height="32.8" fill="#00ffb7"/><rect x="935.6" y="2392.5" width="10.7" height="32.8" fill="#00ffac"/><rect x="946" y="2392.5" width="10.7" height="32.8" fill="#00ffa2"/><rect x="956.4" y="2392.5" width="10.7" height="32.8" fill="#00ff94"/><rect x="966.7" y="2392.5" width="10.7" height="32.8" fill="#00ff84"/><rect x="977.1" y="2392.5" width="10.7" height="32.8" fill="#00ff75"/><rect x="987.5" y="2392.5" width="10.7" height="32.8" fill="#00ff66"/><rect x="997.8" y="2392.5" width="10.7" height="32.8" fill="#00ff53"/><rect x="1008.2" y="2392.5" width="10.7" height="32.8" fill="#00ff29"/><rect x="1018.6" y="2392.5" width="10.7" height="32.8" fill="#00ff00"/><rect x="1028.9" y="2392.5" width="10.7" height="32.8" fill="#17ff00"/><rect x="1039.3" y="2392.5" width="10.7" height="32.8" fill="#32ff00"/><rect x="1049.6" y="2392.5" width="10.7" height="32.8" fill="#4eff00"/><rect x="1060" y="2392.5" width="10.7" height="32.8" fill="#62ff00"/><rect x="1070.4" y="2392.5" width="10.7" height="32.8" fill="#70ff00"/><rect x="1080.7" y="2392.5" width="10.7" height="32.8" fill="#7fff00"/><rect x="1091.1" y="2392.5" width="10.7" height="32.8" fill="#8eff00"/><rect x="1101.5" y="2392.5" width="10.7" height="32.8" fill="#9cff00"/><rect x="1111.8" y="2392.5" width="10.7" height="32.8" fill="#acff00"/><rect x="1122.2" y="2392.5" width="10.7" height="32.8" fill="#bfff00"/><rect x="1132.6" y="2392.5" width="10.7" height="32.8" fill="#d3ff00"/><rect x="1142.9" y="2392.5" width="10.7" height="32.8" fill="#e7ff00"/><rect x="1153.3" y="2392.5" width="10.7" height="32.8" fill="#faff00"/><rect x="1163.7" y="2392.5" width="10.7" height="32.8" fill="#fcfe00"/><rect x="1174" y="2392.5" width="10.7" height="32.8" fill="#fdfd00"/><rect x="1184.4" y="2392.5" width="10.7" height="32.8" fill="#fdfd00"/><rect x="1194.8" y="2392.5" width="10.7" height="32.8" fill="#fefc00"/><rect x="1205.1" y="2392.5" width="10.7" height="32.8" fill="#fefb00"/><rect x="1215.5" y="2392.5" width="10.7" height="32.8" fill="#fffa00"/><rect x="1225.9" y="2392.5" width="10.7" height="32.8" fill="#fff500"/><rect x="1236.2" y="2392.5" width="10.7" height="32.8" fill="#ffed00"/><rect x="1246.6" y="2392.5" width="10.7" height="32.8" fill="#ffe600"/><rect x="1257" y="2392.5" width="10.7" height="32.8" fill="#ffde00"/><rect x="1267.3" y="2392.5" width="10.7" height="32.8" fill="#ffd700"/><rect x="1277.7" y="2392.5" width="10.7" height="32.8" fill="#ffcf00"/><rect x="1288.1" y="2392.5" width="10.7" height="32.8" fill="#ffc700"/><rect x="1298.4" y="2392.5" width="10.7" height="32.8" fill="#ffbf00"/><rect x="1308.8" y="2392.5" width="10.7" height="32.8" fill="#ffb600"/><rect x="1319.1" y="2392.5" width="10.7" height="32.8" fill="#ffae00"/><rect x="1329.5" y="2392.5" width="10.7" height="32.8" fill="#ffa400"/><rect x="1339.9" y="2392.5" width="10.7" height="32.8" fill="#ff9b00"/><rect x="1350.2" y="2392.5" width="10.7" height="32.8" fill="#ff9200"/><rect x="1360.6" y="2392.5" width="10.7" height="32.8" fill="#ff8700"/><rect x="1371" y="2392.5" width="10.7" height="32.8" fill="#ff7c00"/><rect x="1381.3" y="2392.5" width="10.7" height="32.8" fill="#ff7000"/><rect x="1391.7" y="2392.5" width="10.7" height="32.8" fill="#ff6500"/><rect x="1402.1" y="2392.5" width="10.7" height="32.8" fill="#ff5900"/><rect x="1412.4" y="2392.5" width="10.7" height="32.8" fill="#ff4d00"/><rect x="1422.8" y="2392.5" width="10.7" height="32.8" fill="#ff4000"/><rect x="1433.2" y="2392.5" width="10.7" height="32.8" fill="#ff3400"/><rect x="1443.5" y="2392.5" width="10.7" height="32.8" fill="#ff0000"/></g>
<g font-family='"Liberation Sans", sans-serif' font-size="24" letter-spacing="0.35" style="font-kerning:none" fill="#000" stroke="#000" stroke-width="0.35">
<text x="613.3" y="2379.6">0</text>
<text x="684.2" y="2379.6">3.7</text>
<text x="761.6" y="2379.6">7.4</text>
<text x="838.2" y="2379.6">11.0</text>
<text x="922.6" y="2379.6">14.7</text>
<text x="1006.7" y="2379.6">18.4</text>
<text x="1091" y="2379.6">22.1</text>
<text x="1175.6" y="2379.6">25.7</text>
<text x="1259.6" y="2379.6">29.4</text>
<text x="1343.7" y="2379.6">33.1</text>
<text x="1428.3" y="2379.6">36.8</text>
<text x="1485.3" y="2379.6" letter-spacing="1.5">(m/s)</text>
</g>
<text transform="translate(1049 2500.9) scale(0.97 1)" font-family='"Liberation Serif", serif' font-size="32" text-anchor="middle">(e)</text>
</svg>
</body>
</html>
